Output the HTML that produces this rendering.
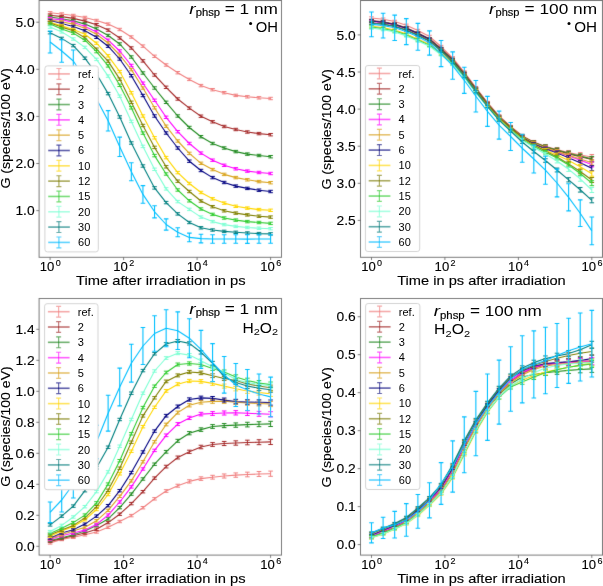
<!DOCTYPE html>
<html><head><meta charset="utf-8"><style>html,body{margin:0;padding:0;background:#fff;}svg{display:block;will-change:transform;}text{font-family:"Liberation Sans", sans-serif;stroke:#000;stroke-width:0.12px;} text.ns{stroke:none;}</style></head><body>
<svg width="603" height="586" viewBox="0 0 603 586" font-family='"Liberation Sans", sans-serif' fill="#000">
<defs><filter id="bl" filterUnits="userSpaceOnUse" x="0" y="0" width="603" height="586"><feConvolveMatrix order="3" kernelMatrix="0.0049 0.0700 0.0049 0.0700 0.7004 0.0700 0.0049 0.0700 0.0049" divisor="1" edgeMode="duplicate" preserveAlpha="false"/></filter></defs>
<rect width="603" height="586" fill="#fff"/>
<g filter="url(#bl)">
<g>
<polyline points="50.10,12.80 61.70,14.00 73.31,15.50 84.91,17.50 96.52,20.50 108.12,24.10 119.73,29.50 131.34,37.00 142.94,46.10 154.55,56.30 166.15,65.00 177.75,72.70 189.36,79.40 200.97,85.60 212.57,89.70 224.18,92.70 235.78,95.40 247.38,96.80 258.99,97.80 270.60,98.50" fill="none" stroke="#F08080" stroke-width="1.1" stroke-linejoin="round"/>
<path d="M50.10,11.60V14.00M47.80,11.60h4.6M47.80,14.00h4.6M61.70,12.80V15.20M59.41,12.80h4.6M59.41,15.20h4.6M73.31,14.30V16.70M71.01,14.30h4.6M71.01,16.70h4.6M84.91,16.30V18.70M82.61,16.30h4.6M82.61,18.70h4.6M96.52,19.30V21.70M94.22,19.30h4.6M94.22,21.70h4.6M108.12,22.90V25.30M105.83,22.90h4.6M105.83,25.30h4.6M119.73,28.30V30.70M117.43,28.30h4.6M117.43,30.70h4.6M131.34,35.80V38.20M129.03,35.80h4.6M129.03,38.20h4.6M142.94,44.90V47.30M140.64,44.90h4.6M140.64,47.30h4.6M154.55,55.10V57.50M152.25,55.10h4.6M152.25,57.50h4.6M166.15,63.80V66.20M163.85,63.80h4.6M163.85,66.20h4.6M177.75,71.50V73.90M175.45,71.50h4.6M175.45,73.90h4.6M189.36,78.20V80.60M187.06,78.20h4.6M187.06,80.60h4.6M200.97,84.40V86.80M198.66,84.40h4.6M198.66,86.80h4.6M212.57,88.50V90.90M210.27,88.50h4.6M210.27,90.90h4.6M224.18,91.50V93.90M221.88,91.50h4.6M221.88,93.90h4.6M235.78,94.20V96.60M233.48,94.20h4.6M233.48,96.60h4.6M247.38,95.60V98.00M245.08,95.60h4.6M245.08,98.00h4.6M258.99,96.60V99.00M256.69,96.60h4.6M256.69,99.00h4.6M270.60,97.30V99.70M268.30,97.30h4.6M268.30,99.70h4.6" fill="none" stroke="#F08080" stroke-width="1.0"/>
<polyline points="50.10,15.20 61.70,16.60 73.31,18.40 84.91,21.10 96.52,24.70 108.12,30.10 119.73,38.00 131.34,48.00 142.94,60.90 154.55,75.00 166.15,87.30 177.75,99.00 189.36,108.10 200.97,116.20 212.57,121.80 224.18,126.50 235.78,129.50 247.38,132.00 258.99,133.60 270.60,134.70" fill="none" stroke="#A52A2A" stroke-width="1.1" stroke-linejoin="round"/>
<path d="M50.10,14.00V16.40M47.80,14.00h4.6M47.80,16.40h4.6M61.70,15.40V17.80M59.41,15.40h4.6M59.41,17.80h4.6M73.31,17.20V19.60M71.01,17.20h4.6M71.01,19.60h4.6M84.91,19.90V22.30M82.61,19.90h4.6M82.61,22.30h4.6M96.52,23.50V25.90M94.22,23.50h4.6M94.22,25.90h4.6M108.12,28.90V31.30M105.83,28.90h4.6M105.83,31.30h4.6M119.73,36.80V39.20M117.43,36.80h4.6M117.43,39.20h4.6M131.34,46.80V49.20M129.03,46.80h4.6M129.03,49.20h4.6M142.94,59.70V62.10M140.64,59.70h4.6M140.64,62.10h4.6M154.55,73.80V76.20M152.25,73.80h4.6M152.25,76.20h4.6M166.15,86.10V88.50M163.85,86.10h4.6M163.85,88.50h4.6M177.75,97.80V100.20M175.45,97.80h4.6M175.45,100.20h4.6M189.36,106.90V109.30M187.06,106.90h4.6M187.06,109.30h4.6M200.97,115.00V117.40M198.66,115.00h4.6M198.66,117.40h4.6M212.57,120.60V123.00M210.27,120.60h4.6M210.27,123.00h4.6M224.18,125.30V127.70M221.88,125.30h4.6M221.88,127.70h4.6M235.78,128.30V130.70M233.48,128.30h4.6M233.48,130.70h4.6M247.38,130.80V133.20M245.08,130.80h4.6M245.08,133.20h4.6M258.99,132.40V134.80M256.69,132.40h4.6M256.69,134.80h4.6M270.60,133.50V135.90M268.30,133.50h4.6M268.30,135.90h4.6" fill="none" stroke="#A52A2A" stroke-width="1.0"/>
<polyline points="50.10,17.00 61.70,18.70 73.31,20.90 84.91,24.10 96.52,28.90 108.12,35.50 119.73,44.00 131.34,57.00 142.94,73.00 154.55,88.00 166.15,102.30 177.75,116.00 189.36,127.50 200.97,136.70 212.57,143.50 224.18,148.00 235.78,151.60 247.38,154.10 258.99,155.50 270.60,156.70" fill="none" stroke="#228B22" stroke-width="1.1" stroke-linejoin="round"/>
<path d="M50.10,15.80V18.20M47.80,15.80h4.6M47.80,18.20h4.6M61.70,17.50V19.90M59.41,17.50h4.6M59.41,19.90h4.6M73.31,19.70V22.10M71.01,19.70h4.6M71.01,22.10h4.6M84.91,22.90V25.30M82.61,22.90h4.6M82.61,25.30h4.6M96.52,27.70V30.10M94.22,27.70h4.6M94.22,30.10h4.6M108.12,34.30V36.70M105.83,34.30h4.6M105.83,36.70h4.6M119.73,42.80V45.20M117.43,42.80h4.6M117.43,45.20h4.6M131.34,55.80V58.20M129.03,55.80h4.6M129.03,58.20h4.6M142.94,71.80V74.20M140.64,71.80h4.6M140.64,74.20h4.6M154.55,86.80V89.20M152.25,86.80h4.6M152.25,89.20h4.6M166.15,101.10V103.50M163.85,101.10h4.6M163.85,103.50h4.6M177.75,114.80V117.20M175.45,114.80h4.6M175.45,117.20h4.6M189.36,126.30V128.70M187.06,126.30h4.6M187.06,128.70h4.6M200.97,135.50V137.90M198.66,135.50h4.6M198.66,137.90h4.6M212.57,142.30V144.70M210.27,142.30h4.6M210.27,144.70h4.6M224.18,146.80V149.20M221.88,146.80h4.6M221.88,149.20h4.6M235.78,150.40V152.80M233.48,150.40h4.6M233.48,152.80h4.6M247.38,152.90V155.30M245.08,152.90h4.6M245.08,155.30h4.6M258.99,154.30V156.70M256.69,154.30h4.6M256.69,156.70h4.6M270.60,155.50V157.90M268.30,155.50h4.6M268.30,157.90h4.6" fill="none" stroke="#228B22" stroke-width="1.0"/>
<polyline points="50.10,18.70 61.70,19.90 73.31,22.30 84.91,26.50 96.52,31.90 108.12,40.20 119.73,51.00 131.34,65.50 142.94,83.20 154.55,100.30 166.15,117.30 177.75,131.70 189.36,143.50 200.97,153.10 212.57,160.20 224.18,165.30 235.78,168.80 247.38,171.10 258.99,172.50 270.60,173.50" fill="none" stroke="#FF00FF" stroke-width="1.1" stroke-linejoin="round"/>
<path d="M50.10,17.50V19.90M47.80,17.50h4.6M47.80,19.90h4.6M61.70,18.70V21.10M59.41,18.70h4.6M59.41,21.10h4.6M73.31,21.10V23.50M71.01,21.10h4.6M71.01,23.50h4.6M84.91,25.30V27.70M82.61,25.30h4.6M82.61,27.70h4.6M96.52,30.70V33.10M94.22,30.70h4.6M94.22,33.10h4.6M108.12,39.00V41.40M105.83,39.00h4.6M105.83,41.40h4.6M119.73,49.80V52.20M117.43,49.80h4.6M117.43,52.20h4.6M131.34,64.30V66.70M129.03,64.30h4.6M129.03,66.70h4.6M142.94,82.00V84.40M140.64,82.00h4.6M140.64,84.40h4.6M154.55,99.10V101.50M152.25,99.10h4.6M152.25,101.50h4.6M166.15,116.10V118.50M163.85,116.10h4.6M163.85,118.50h4.6M177.75,130.50V132.90M175.45,130.50h4.6M175.45,132.90h4.6M189.36,142.30V144.70M187.06,142.30h4.6M187.06,144.70h4.6M200.97,151.90V154.30M198.66,151.90h4.6M198.66,154.30h4.6M212.57,159.00V161.40M210.27,159.00h4.6M210.27,161.40h4.6M224.18,164.10V166.50M221.88,164.10h4.6M221.88,166.50h4.6M235.78,167.60V170.00M233.48,167.60h4.6M233.48,170.00h4.6M247.38,169.90V172.30M245.08,169.90h4.6M245.08,172.30h4.6M258.99,171.30V173.70M256.69,171.30h4.6M256.69,173.70h4.6M270.60,172.30V174.70M268.30,172.30h4.6M268.30,174.70h4.6" fill="none" stroke="#FF00FF" stroke-width="1.0"/>
<polyline points="50.10,19.90 61.70,21.70 73.31,24.10 84.91,28.30 96.52,34.30 108.12,43.00 119.73,55.00 131.34,69.60 142.94,88.00 154.55,107.80 166.15,126.20 177.75,141.00 189.36,153.40 200.97,163.30 212.57,169.60 224.18,174.40 235.78,177.60 247.38,179.80 258.99,181.60 270.60,182.70" fill="none" stroke="#DAA520" stroke-width="1.1" stroke-linejoin="round"/>
<path d="M50.10,18.70V21.10M47.80,18.70h4.6M47.80,21.10h4.6M61.70,20.50V22.90M59.41,20.50h4.6M59.41,22.90h4.6M73.31,22.90V25.30M71.01,22.90h4.6M71.01,25.30h4.6M84.91,27.10V29.50M82.61,27.10h4.6M82.61,29.50h4.6M96.52,33.10V35.50M94.22,33.10h4.6M94.22,35.50h4.6M108.12,41.80V44.20M105.83,41.80h4.6M105.83,44.20h4.6M119.73,53.80V56.20M117.43,53.80h4.6M117.43,56.20h4.6M131.34,68.40V70.80M129.03,68.40h4.6M129.03,70.80h4.6M142.94,86.80V89.20M140.64,86.80h4.6M140.64,89.20h4.6M154.55,106.60V109.00M152.25,106.60h4.6M152.25,109.00h4.6M166.15,125.00V127.40M163.85,125.00h4.6M163.85,127.40h4.6M177.75,139.80V142.20M175.45,139.80h4.6M175.45,142.20h4.6M189.36,152.20V154.60M187.06,152.20h4.6M187.06,154.60h4.6M200.97,162.10V164.50M198.66,162.10h4.6M198.66,164.50h4.6M212.57,168.40V170.80M210.27,168.40h4.6M210.27,170.80h4.6M224.18,173.20V175.60M221.88,173.20h4.6M221.88,175.60h4.6M235.78,176.40V178.80M233.48,176.40h4.6M233.48,178.80h4.6M247.38,178.60V181.00M245.08,178.60h4.6M245.08,181.00h4.6M258.99,180.40V182.80M256.69,180.40h4.6M256.69,182.80h4.6M270.60,181.50V183.90M268.30,181.50h4.6M268.30,183.90h4.6" fill="none" stroke="#DAA520" stroke-width="1.0"/>
<polyline points="50.10,20.50 61.70,23.50 73.31,26.50 84.91,30.70 96.52,37.30 108.12,46.20 119.73,59.00 131.34,75.70 142.94,95.50 154.55,116.00 166.15,133.00 177.75,148.00 189.36,161.20 200.97,170.50 212.57,177.60 224.18,182.50 235.78,186.10 247.38,188.40 258.99,190.20 270.60,191.50" fill="none" stroke="#000080" stroke-width="1.1" stroke-linejoin="round"/>
<path d="M50.10,19.30V21.70M47.80,19.30h4.6M47.80,21.70h4.6M61.70,22.30V24.70M59.41,22.30h4.6M59.41,24.70h4.6M73.31,25.30V27.70M71.01,25.30h4.6M71.01,27.70h4.6M84.91,29.50V31.90M82.61,29.50h4.6M82.61,31.90h4.6M96.52,36.10V38.50M94.22,36.10h4.6M94.22,38.50h4.6M108.12,45.00V47.40M105.83,45.00h4.6M105.83,47.40h4.6M119.73,57.80V60.20M117.43,57.80h4.6M117.43,60.20h4.6M131.34,74.50V76.90M129.03,74.50h4.6M129.03,76.90h4.6M142.94,94.30V96.70M140.64,94.30h4.6M140.64,96.70h4.6M154.55,114.80V117.20M152.25,114.80h4.6M152.25,117.20h4.6M166.15,131.80V134.20M163.85,131.80h4.6M163.85,134.20h4.6M177.75,146.80V149.20M175.45,146.80h4.6M175.45,149.20h4.6M189.36,160.00V162.40M187.06,160.00h4.6M187.06,162.40h4.6M200.97,169.30V171.70M198.66,169.30h4.6M198.66,171.70h4.6M212.57,176.40V178.80M210.27,176.40h4.6M210.27,178.80h4.6M224.18,181.30V183.70M221.88,181.30h4.6M221.88,183.70h4.6M235.78,184.90V187.30M233.48,184.90h4.6M233.48,187.30h4.6M247.38,187.20V189.60M245.08,187.20h4.6M245.08,189.60h4.6M258.99,189.00V191.40M256.69,189.00h4.6M256.69,191.40h4.6M270.60,190.30V192.70M268.30,190.30h4.6M268.30,192.70h4.6" fill="none" stroke="#000080" stroke-width="1.0"/>
<polyline points="50.10,22.30 61.70,25.90 73.31,29.50 84.91,34.30 96.52,43.20 108.12,55.80 119.73,71.60 131.34,92.80 142.94,116.00 154.55,137.80 166.15,157.60 177.75,172.60 189.36,183.50 200.97,192.50 212.57,198.80 224.18,203.10 235.78,206.30 247.38,208.10 258.99,209.60 270.60,210.30" fill="none" stroke="#FFD700" stroke-width="1.1" stroke-linejoin="round"/>
<path d="M50.10,21.10V23.50M47.80,21.10h4.6M47.80,23.50h4.6M61.70,24.70V27.10M59.41,24.70h4.6M59.41,27.10h4.6M73.31,28.30V30.70M71.01,28.30h4.6M71.01,30.70h4.6M84.91,33.10V35.50M82.61,33.10h4.6M82.61,35.50h4.6M96.52,42.00V44.40M94.22,42.00h4.6M94.22,44.40h4.6M108.12,54.60V57.00M105.83,54.60h4.6M105.83,57.00h4.6M119.73,70.40V72.80M117.43,70.40h4.6M117.43,72.80h4.6M131.34,91.60V94.00M129.03,91.60h4.6M129.03,94.00h4.6M142.94,114.80V117.20M140.64,114.80h4.6M140.64,117.20h4.6M154.55,136.60V139.00M152.25,136.60h4.6M152.25,139.00h4.6M166.15,156.40V158.80M163.85,156.40h4.6M163.85,158.80h4.6M177.75,171.40V173.80M175.45,171.40h4.6M175.45,173.80h4.6M189.36,182.30V184.70M187.06,182.30h4.6M187.06,184.70h4.6M200.97,191.30V193.70M198.66,191.30h4.6M198.66,193.70h4.6M212.57,197.60V200.00M210.27,197.60h4.6M210.27,200.00h4.6M224.18,201.90V204.30M221.88,201.90h4.6M221.88,204.30h4.6M235.78,205.10V207.50M233.48,205.10h4.6M233.48,207.50h4.6M247.38,206.90V209.30M245.08,206.90h4.6M245.08,209.30h4.6M258.99,208.40V210.80M256.69,208.40h4.6M256.69,210.80h4.6M270.60,209.10V211.50M268.30,209.10h4.6M268.30,211.50h4.6" fill="none" stroke="#FFD700" stroke-width="1.0"/>
<polyline points="50.10,22.90 61.70,27.10 73.31,30.70 84.91,37.90 96.52,49.20 108.12,61.10 119.73,79.10 131.34,102.30 142.94,125.50 154.55,147.40 166.15,166.80 177.75,181.20 189.36,191.50 200.97,201.00 212.57,206.70 224.18,210.80 235.78,213.10 247.38,214.90 258.99,216.20 270.60,217.10" fill="none" stroke="#808000" stroke-width="1.1" stroke-linejoin="round"/>
<path d="M50.10,21.70V24.10M47.80,21.70h4.6M47.80,24.10h4.6M61.70,25.90V28.30M59.41,25.90h4.6M59.41,28.30h4.6M73.31,29.50V31.90M71.01,29.50h4.6M71.01,31.90h4.6M84.91,36.70V39.10M82.61,36.70h4.6M82.61,39.10h4.6M96.52,48.00V50.40M94.22,48.00h4.6M94.22,50.40h4.6M108.12,59.90V62.30M105.83,59.90h4.6M105.83,62.30h4.6M119.73,77.90V80.30M117.43,77.90h4.6M117.43,80.30h4.6M131.34,101.10V103.50M129.03,101.10h4.6M129.03,103.50h4.6M142.94,124.30V126.70M140.64,124.30h4.6M140.64,126.70h4.6M154.55,146.20V148.60M152.25,146.20h4.6M152.25,148.60h4.6M166.15,165.60V168.00M163.85,165.60h4.6M163.85,168.00h4.6M177.75,180.00V182.40M175.45,180.00h4.6M175.45,182.40h4.6M189.36,190.30V192.70M187.06,190.30h4.6M187.06,192.70h4.6M200.97,199.80V202.20M198.66,199.80h4.6M198.66,202.20h4.6M212.57,205.50V207.90M210.27,205.50h4.6M210.27,207.90h4.6M224.18,209.60V212.00M221.88,209.60h4.6M221.88,212.00h4.6M235.78,211.90V214.30M233.48,211.90h4.6M233.48,214.30h4.6M247.38,213.70V216.10M245.08,213.70h4.6M245.08,216.10h4.6M258.99,215.00V217.40M256.69,215.00h4.6M256.69,217.40h4.6M270.60,215.90V218.30M268.30,215.90h4.6M268.30,218.30h4.6" fill="none" stroke="#808000" stroke-width="1.0"/>
<polyline points="50.10,24.10 61.70,28.90 73.31,33.10 84.91,40.20 96.52,51.60 108.12,65.90 119.73,85.30 131.34,107.80 142.94,133.10 154.55,155.60 166.15,174.00 177.75,190.00 189.36,200.80 200.97,209.00 212.57,214.40 224.18,218.00 235.78,220.10 247.38,221.60 258.99,222.50 270.60,223.40" fill="none" stroke="#32CD32" stroke-width="1.1" stroke-linejoin="round"/>
<path d="M50.10,22.90V25.30M47.80,22.90h4.6M47.80,25.30h4.6M61.70,27.70V30.10M59.41,27.70h4.6M59.41,30.10h4.6M73.31,31.90V34.30M71.01,31.90h4.6M71.01,34.30h4.6M84.91,39.00V41.40M82.61,39.00h4.6M82.61,41.40h4.6M96.52,50.40V52.80M94.22,50.40h4.6M94.22,52.80h4.6M108.12,64.70V67.10M105.83,64.70h4.6M105.83,67.10h4.6M119.73,84.10V86.50M117.43,84.10h4.6M117.43,86.50h4.6M131.34,106.60V109.00M129.03,106.60h4.6M129.03,109.00h4.6M142.94,131.90V134.30M140.64,131.90h4.6M140.64,134.30h4.6M154.55,154.40V156.80M152.25,154.40h4.6M152.25,156.80h4.6M166.15,172.80V175.20M163.85,172.80h4.6M163.85,175.20h4.6M177.75,188.80V191.20M175.45,188.80h4.6M175.45,191.20h4.6M189.36,199.60V202.00M187.06,199.60h4.6M187.06,202.00h4.6M200.97,207.80V210.20M198.66,207.80h4.6M198.66,210.20h4.6M212.57,213.20V215.60M210.27,213.20h4.6M210.27,215.60h4.6M224.18,216.80V219.20M221.88,216.80h4.6M221.88,219.20h4.6M235.78,218.90V221.30M233.48,218.90h4.6M233.48,221.30h4.6M247.38,220.40V222.80M245.08,220.40h4.6M245.08,222.80h4.6M258.99,221.30V223.70M256.69,221.30h4.6M256.69,223.70h4.6M270.60,222.20V224.60M268.30,222.20h4.6M268.30,224.60h4.6" fill="none" stroke="#32CD32" stroke-width="1.0"/>
<polyline points="50.10,27.10 61.70,31.90 73.31,39.00 84.91,47.40 96.52,59.40 108.12,76.10 119.73,96.20 131.34,121.40 142.94,146.40 154.55,169.30 166.15,188.90 177.75,201.60 189.36,209.40 200.97,217.10 212.57,221.60 224.18,224.60 235.78,226.40 247.38,227.50 258.99,228.20 270.60,228.70" fill="none" stroke="#7FFFD4" stroke-width="1.1" stroke-linejoin="round"/>
<path d="M50.10,25.90V28.30M47.80,25.90h4.6M47.80,28.30h4.6M61.70,30.70V33.10M59.41,30.70h4.6M59.41,33.10h4.6M73.31,37.80V40.20M71.01,37.80h4.6M71.01,40.20h4.6M84.91,46.20V48.60M82.61,46.20h4.6M82.61,48.60h4.6M96.52,58.20V60.60M94.22,58.20h4.6M94.22,60.60h4.6M108.12,74.90V77.30M105.83,74.90h4.6M105.83,77.30h4.6M119.73,95.00V97.40M117.43,95.00h4.6M117.43,97.40h4.6M131.34,120.20V122.60M129.03,120.20h4.6M129.03,122.60h4.6M142.94,145.20V147.60M140.64,145.20h4.6M140.64,147.60h4.6M154.55,168.10V170.50M152.25,168.10h4.6M152.25,170.50h4.6M166.15,187.70V190.10M163.85,187.70h4.6M163.85,190.10h4.6M177.75,200.40V202.80M175.45,200.40h4.6M175.45,202.80h4.6M189.36,208.20V210.60M187.06,208.20h4.6M187.06,210.60h4.6M200.97,215.90V218.30M198.66,215.90h4.6M198.66,218.30h4.6M212.57,220.40V222.80M210.27,220.40h4.6M210.27,222.80h4.6M224.18,223.40V225.80M221.88,223.40h4.6M221.88,225.80h4.6M235.78,225.20V227.60M233.48,225.20h4.6M233.48,227.60h4.6M247.38,226.30V228.70M245.08,226.30h4.6M245.08,228.70h4.6M258.99,227.00V229.40M256.69,227.00h4.6M256.69,229.40h4.6M270.60,227.50V229.90M268.30,227.50h4.6M268.30,229.90h4.6" fill="none" stroke="#7FFFD4" stroke-width="1.0"/>
<polyline points="50.10,32.70 61.70,38.40 73.31,45.60 84.91,58.20 96.52,74.00 108.12,93.60 119.73,117.00 131.34,143.00 142.94,166.00 154.55,187.90 166.15,202.60 177.75,213.90 189.36,222.50 200.97,227.80 212.57,230.00 224.18,231.40 235.78,232.30 247.38,233.00 258.99,233.60 270.60,233.90" fill="none" stroke="#008080" stroke-width="1.1" stroke-linejoin="round"/>
<path d="M50.10,31.50V33.90M47.80,31.50h4.6M47.80,33.90h4.6M61.70,37.20V39.60M59.41,37.20h4.6M59.41,39.60h4.6M73.31,44.40V46.80M71.01,44.40h4.6M71.01,46.80h4.6M84.91,57.00V59.40M82.61,57.00h4.6M82.61,59.40h4.6M96.52,72.80V75.20M94.22,72.80h4.6M94.22,75.20h4.6M108.12,92.40V94.80M105.83,92.40h4.6M105.83,94.80h4.6M119.73,115.80V118.20M117.43,115.80h4.6M117.43,118.20h4.6M131.34,141.80V144.20M129.03,141.80h4.6M129.03,144.20h4.6M142.94,164.80V167.20M140.64,164.80h4.6M140.64,167.20h4.6M154.55,186.70V189.10M152.25,186.70h4.6M152.25,189.10h4.6M166.15,201.40V203.80M163.85,201.40h4.6M163.85,203.80h4.6M177.75,212.70V215.10M175.45,212.70h4.6M175.45,215.10h4.6M189.36,221.30V223.70M187.06,221.30h4.6M187.06,223.70h4.6M200.97,226.60V229.00M198.66,226.60h4.6M198.66,229.00h4.6M212.57,228.80V231.20M210.27,228.80h4.6M210.27,231.20h4.6M224.18,230.20V232.60M221.88,230.20h4.6M221.88,232.60h4.6M235.78,231.10V233.50M233.48,231.10h4.6M233.48,233.50h4.6M247.38,231.80V234.20M245.08,231.80h4.6M245.08,234.20h4.6M258.99,232.40V234.80M256.69,232.40h4.6M256.69,234.80h4.6M270.60,232.70V235.10M268.30,232.70h4.6M268.30,235.10h4.6" fill="none" stroke="#008080" stroke-width="1.0"/>
<polyline points="50.10,42.00 61.70,51.00 73.31,61.00 84.91,78.50 96.52,99.00 108.12,120.80 119.73,146.80 131.34,171.70 142.94,194.40 154.55,211.80 166.15,224.50 177.75,232.30 189.36,237.40 200.97,238.60 212.57,239.00 224.18,239.00 235.78,239.00 247.38,239.10 258.99,239.00 270.60,239.00" fill="none" stroke="#00BFFF" stroke-width="1.1" stroke-linejoin="round"/>
<path d="M50.10,31.00V53.00M47.80,31.00h4.6M47.80,53.00h4.6M61.70,39.70V62.30M59.41,39.70h4.6M59.41,62.30h4.6M73.31,50.00V72.00M71.01,50.00h4.6M71.01,72.00h4.6M84.91,67.80V89.20M82.61,67.80h4.6M82.61,89.20h4.6M96.52,88.50V109.50M94.22,88.50h4.6M94.22,109.50h4.6M108.12,110.60V131.00M105.83,110.60h4.6M105.83,131.00h4.6M119.73,137.10V156.50M117.43,137.10h4.6M117.43,156.50h4.6M131.34,162.70V180.70M129.03,162.70h4.6M129.03,180.70h4.6M142.94,185.60V203.20M140.64,185.60h4.6M140.64,203.20h4.6M154.55,205.70V217.90M152.25,205.70h4.6M152.25,217.90h4.6M166.15,218.90V230.10M163.85,218.90h4.6M163.85,230.10h4.6M177.75,227.80V236.80M175.45,227.80h4.6M175.45,236.80h4.6M189.36,233.10V241.70M187.06,233.10h4.6M187.06,241.70h4.6M200.97,234.30V242.90M198.66,234.30h4.6M198.66,242.90h4.6M212.57,234.70V243.30M210.27,234.70h4.6M210.27,243.30h4.6M224.18,234.70V243.30M221.88,234.70h4.6M221.88,243.30h4.6M235.78,234.70V243.30M233.48,234.70h4.6M233.48,243.30h4.6M247.38,234.80V243.40M245.08,234.80h4.6M245.08,243.40h4.6M258.99,234.70V243.30M256.69,234.70h4.6M256.69,243.30h4.6M270.60,234.70V243.30M268.30,234.70h4.6M268.30,243.30h4.6" fill="none" stroke="#00BFFF" stroke-width="1.1"/>
<rect x="44.90" y="65.90" width="53.40" height="186.00" rx="2.5" fill="#ffffff" fill-opacity="1" stroke="#d3d3d3" stroke-width="1"/>
<g stroke="#F08080" stroke-opacity="0.7" fill="none"><line x1="48.20" y1="73.90" x2="69.90" y2="73.90" stroke-width="1.6"/><path d="M58.90,68.50V79.30M56.40,68.50h5M56.40,79.30h5" stroke-width="1.2"/></g>
<g stroke="#A52A2A" stroke-opacity="0.7" fill="none"><line x1="48.20" y1="89.22" x2="69.90" y2="89.22" stroke-width="1.6"/><path d="M58.90,83.82V94.62M56.40,83.82h5M56.40,94.62h5" stroke-width="1.2"/></g>
<g stroke="#228B22" stroke-opacity="0.7" fill="none"><line x1="48.20" y1="104.54" x2="69.90" y2="104.54" stroke-width="1.6"/><path d="M58.90,99.14V109.94M56.40,99.14h5M56.40,109.94h5" stroke-width="1.2"/></g>
<g stroke="#FF00FF" stroke-opacity="0.7" fill="none"><line x1="48.20" y1="119.86" x2="69.90" y2="119.86" stroke-width="1.6"/><path d="M58.90,114.46V125.26M56.40,114.46h5M56.40,125.26h5" stroke-width="1.2"/></g>
<g stroke="#DAA520" stroke-opacity="0.7" fill="none"><line x1="48.20" y1="135.18" x2="69.90" y2="135.18" stroke-width="1.6"/><path d="M58.90,129.78V140.58M56.40,129.78h5M56.40,140.58h5" stroke-width="1.2"/></g>
<g stroke="#000080" stroke-opacity="0.7" fill="none"><line x1="48.20" y1="150.50" x2="69.90" y2="150.50" stroke-width="1.6"/><path d="M58.90,145.10V155.90M56.40,145.10h5M56.40,155.90h5" stroke-width="1.2"/></g>
<g stroke="#FFD700" stroke-opacity="0.7" fill="none"><line x1="48.20" y1="165.82" x2="69.90" y2="165.82" stroke-width="1.6"/><path d="M58.90,160.42V171.22M56.40,160.42h5M56.40,171.22h5" stroke-width="1.2"/></g>
<g stroke="#808000" stroke-opacity="0.7" fill="none"><line x1="48.20" y1="181.14" x2="69.90" y2="181.14" stroke-width="1.6"/><path d="M58.90,175.74V186.54M56.40,175.74h5M56.40,186.54h5" stroke-width="1.2"/></g>
<g stroke="#32CD32" stroke-opacity="0.7" fill="none"><line x1="48.20" y1="196.46" x2="69.90" y2="196.46" stroke-width="1.6"/><path d="M58.90,191.06V201.86M56.40,191.06h5M56.40,201.86h5" stroke-width="1.2"/></g>
<g stroke="#7FFFD4" stroke-opacity="0.7" fill="none"><line x1="48.20" y1="211.78" x2="69.90" y2="211.78" stroke-width="1.6"/><path d="M58.90,206.38V217.18M56.40,206.38h5M56.40,217.18h5" stroke-width="1.2"/></g>
<g stroke="#008080" stroke-opacity="0.7" fill="none"><line x1="48.20" y1="227.10" x2="69.90" y2="227.10" stroke-width="1.6"/><path d="M58.90,221.70V232.50M56.40,221.70h5M56.40,232.50h5" stroke-width="1.2"/></g>
<g stroke="#00BFFF" stroke-opacity="0.7" fill="none"><line x1="48.20" y1="242.42" x2="69.90" y2="242.42" stroke-width="1.6"/><path d="M58.90,237.02V247.82M56.40,237.02h5M56.40,247.82h5" stroke-width="1.2"/></g>
<rect x="39.1" y="0.5" width="242.40" height="256.80" fill="none" stroke="#7a7a7a" stroke-width="1"/>
<line x1="39.1" y1="0.5" x2="281.5" y2="0.5" stroke="#747474" stroke-width="1"/>
<line x1="36.30" y1="22.20" x2="39.10" y2="22.20" stroke="#606060" stroke-width="0.8"/>
<line x1="36.30" y1="69.31" x2="39.10" y2="69.31" stroke="#606060" stroke-width="0.8"/>
<line x1="36.30" y1="116.42" x2="39.10" y2="116.42" stroke="#606060" stroke-width="0.8"/>
<line x1="36.30" y1="163.53" x2="39.10" y2="163.53" stroke="#606060" stroke-width="0.8"/>
<line x1="36.30" y1="210.64" x2="39.10" y2="210.64" stroke="#606060" stroke-width="0.8"/>
<line x1="50.10" y1="257.30" x2="50.10" y2="260.10" stroke="#606060" stroke-width="0.8"/>
<line x1="123.60" y1="257.30" x2="123.60" y2="260.10" stroke="#606060" stroke-width="0.8"/>
<line x1="197.10" y1="257.30" x2="197.10" y2="260.10" stroke="#606060" stroke-width="0.8"/>
<line x1="270.60" y1="257.30" x2="270.60" y2="260.10" stroke="#606060" stroke-width="0.8"/>
</g>
<polyline points="371.50,18.00 383.10,19.21 394.69,21.45 406.29,25.32 417.88,30.50 429.48,36.49 441.07,46.53 452.67,57.91 464.26,72.00 475.86,87.62 487.45,102.51 499.05,115.95 510.64,126.50 522.24,135.70 533.83,142.00 545.42,146.25 557.02,149.50 568.62,152.61 580.21,154.94 591.81,157.00" fill="none" stroke="#F08080" stroke-width="1.1" stroke-linejoin="round"/>
<path d="M371.50,16.80V19.20M369.20,16.80h4.6M369.20,19.20h4.6M383.10,18.01V20.41M380.80,18.01h4.6M380.80,20.41h4.6M394.69,20.25V22.65M392.39,20.25h4.6M392.39,22.65h4.6M406.29,24.12V26.52M403.99,24.12h4.6M403.99,26.52h4.6M417.88,29.30V31.70M415.58,29.30h4.6M415.58,31.70h4.6M429.48,35.29V37.69M427.18,35.29h4.6M427.18,37.69h4.6M441.07,45.33V47.73M438.77,45.33h4.6M438.77,47.73h4.6M452.67,56.71V59.11M450.37,56.71h4.6M450.37,59.11h4.6M464.26,70.80V73.20M461.96,70.80h4.6M461.96,73.20h4.6M475.86,86.42V88.82M473.56,86.42h4.6M473.56,88.82h4.6M487.45,101.31V103.71M485.15,101.31h4.6M485.15,103.71h4.6M499.05,114.75V117.15M496.75,114.75h4.6M496.75,117.15h4.6M510.64,125.30V127.70M508.34,125.30h4.6M508.34,127.70h4.6M522.24,134.31V137.09M519.94,134.31h4.6M519.94,137.09h4.6M533.83,140.43V143.57M531.53,140.43h4.6M531.53,143.57h4.6M545.42,144.49V148.01M543.12,144.49h4.6M543.12,148.01h4.6M557.02,147.56V151.44M554.72,147.56h4.6M554.72,151.44h4.6M568.62,150.48V154.74M566.32,150.48h4.6M566.32,154.74h4.6M580.21,152.62V157.25M577.91,152.62h4.6M577.91,157.25h4.6M591.81,154.50V159.50M589.51,154.50h4.6M589.51,159.50h4.6" fill="none" stroke="#F08080" stroke-width="1.0"/>
<polyline points="371.50,20.50 383.10,21.74 394.69,23.99 406.29,27.84 417.88,33.00 429.48,38.77 441.07,48.36 452.67,59.24 464.26,73.00 475.86,88.44 487.45,103.17 499.05,116.49 510.64,127.00 522.24,136.20 533.83,142.50 545.42,147.00 557.02,150.50 568.62,153.85 580.21,156.76 591.81,159.50" fill="none" stroke="#A52A2A" stroke-width="1.1" stroke-linejoin="round"/>
<path d="M371.50,19.30V21.70M369.20,19.30h4.6M369.20,21.70h4.6M383.10,20.54V22.94M380.80,20.54h4.6M380.80,22.94h4.6M394.69,22.79V25.19M392.39,22.79h4.6M392.39,25.19h4.6M406.29,26.64V29.04M403.99,26.64h4.6M403.99,29.04h4.6M417.88,31.80V34.20M415.58,31.80h4.6M415.58,34.20h4.6M429.48,37.57V39.97M427.18,37.57h4.6M427.18,39.97h4.6M441.07,47.16V49.56M438.77,47.16h4.6M438.77,49.56h4.6M452.67,58.04V60.44M450.37,58.04h4.6M450.37,60.44h4.6M464.26,71.80V74.20M461.96,71.80h4.6M461.96,74.20h4.6M475.86,87.24V89.64M473.56,87.24h4.6M473.56,89.64h4.6M487.45,101.97V104.37M485.15,101.97h4.6M485.15,104.37h4.6M499.05,115.29V117.69M496.75,115.29h4.6M496.75,117.69h4.6M510.64,125.80V128.20M508.34,125.80h4.6M508.34,128.20h4.6M522.24,134.81V137.59M519.94,134.81h4.6M519.94,137.59h4.6M533.83,140.93V144.07M531.53,140.93h4.6M531.53,144.07h4.6M545.42,145.24V148.76M543.12,145.24h4.6M543.12,148.76h4.6M557.02,148.56V152.44M554.72,148.56h4.6M554.72,152.44h4.6M568.62,151.72V155.98M566.32,151.72h4.6M566.32,155.98h4.6M580.21,154.44V159.07M577.91,154.44h4.6M577.91,159.07h4.6M591.81,157.00V162.00M589.51,157.00h4.6M589.51,162.00h4.6" fill="none" stroke="#A52A2A" stroke-width="1.0"/>
<polyline points="371.50,21.00 383.10,22.24 394.69,24.49 406.29,28.34 417.88,33.50 429.48,39.27 441.07,48.86 452.67,59.74 464.26,73.50 475.86,88.94 487.45,103.67 499.05,116.99 510.64,127.50 522.24,136.51 533.83,142.50 545.42,146.69 557.02,150.00 568.62,153.30 580.21,156.14 591.81,158.90" fill="none" stroke="#228B22" stroke-width="1.1" stroke-linejoin="round"/>
<path d="M371.50,19.80V22.20M369.20,19.80h4.6M369.20,22.20h4.6M383.10,21.04V23.44M380.80,21.04h4.6M380.80,23.44h4.6M394.69,23.29V25.69M392.39,23.29h4.6M392.39,25.69h4.6M406.29,27.14V29.54M403.99,27.14h4.6M403.99,29.54h4.6M417.88,32.30V34.70M415.58,32.30h4.6M415.58,34.70h4.6M429.48,38.07V40.47M427.18,38.07h4.6M427.18,40.47h4.6M441.07,47.66V50.06M438.77,47.66h4.6M438.77,50.06h4.6M452.67,58.54V60.94M450.37,58.54h4.6M450.37,60.94h4.6M464.26,72.30V74.70M461.96,72.30h4.6M461.96,74.70h4.6M475.86,87.74V90.14M473.56,87.74h4.6M473.56,90.14h4.6M487.45,102.47V104.87M485.15,102.47h4.6M485.15,104.87h4.6M499.05,115.79V118.19M496.75,115.79h4.6M496.75,118.19h4.6M510.64,126.30V128.70M508.34,126.30h4.6M508.34,128.70h4.6M522.24,135.13V137.90M519.94,135.13h4.6M519.94,137.90h4.6M533.83,140.93V144.07M531.53,140.93h4.6M531.53,144.07h4.6M545.42,144.93V148.44M543.12,144.93h4.6M543.12,148.44h4.6M557.02,148.06V151.94M554.72,148.06h4.6M554.72,151.94h4.6M568.62,151.18V155.43M566.32,151.18h4.6M566.32,155.43h4.6M580.21,153.83V158.46M577.91,153.83h4.6M577.91,158.46h4.6M591.81,156.40V161.40M589.51,156.40h4.6M589.51,161.40h4.6" fill="none" stroke="#228B22" stroke-width="1.0"/>
<polyline points="371.50,21.50 383.10,22.74 394.69,24.99 406.29,28.84 417.88,34.00 429.48,39.77 441.07,49.36 452.67,60.24 464.26,74.00 475.86,89.44 487.45,104.17 499.05,117.49 510.64,128.00 522.24,137.20 533.83,143.50 545.42,148.14 557.02,152.00 568.62,156.05 580.21,160.13 591.81,164.40" fill="none" stroke="#FF00FF" stroke-width="1.1" stroke-linejoin="round"/>
<path d="M371.50,20.30V22.70M369.20,20.30h4.6M369.20,22.70h4.6M383.10,21.54V23.94M380.80,21.54h4.6M380.80,23.94h4.6M394.69,23.79V26.19M392.39,23.79h4.6M392.39,26.19h4.6M406.29,27.64V30.04M403.99,27.64h4.6M403.99,30.04h4.6M417.88,32.80V35.20M415.58,32.80h4.6M415.58,35.20h4.6M429.48,38.57V40.97M427.18,38.57h4.6M427.18,40.97h4.6M441.07,48.16V50.56M438.77,48.16h4.6M438.77,50.56h4.6M452.67,59.04V61.44M450.37,59.04h4.6M450.37,61.44h4.6M464.26,72.80V75.20M461.96,72.80h4.6M461.96,75.20h4.6M475.86,88.24V90.64M473.56,88.24h4.6M473.56,90.64h4.6M487.45,102.97V105.37M485.15,102.97h4.6M485.15,105.37h4.6M499.05,116.29V118.69M496.75,116.29h4.6M496.75,118.69h4.6M510.64,126.80V129.20M508.34,126.80h4.6M508.34,129.20h4.6M522.24,135.81V138.59M519.94,135.81h4.6M519.94,138.59h4.6M533.83,141.93V145.07M531.53,141.93h4.6M531.53,145.07h4.6M545.42,146.39V149.90M543.12,146.39h4.6M543.12,149.90h4.6M557.02,150.06V153.94M554.72,150.06h4.6M554.72,153.94h4.6M568.62,153.92V158.18M566.32,153.92h4.6M566.32,158.18h4.6M580.21,157.82V162.45M577.91,157.82h4.6M577.91,162.45h4.6M591.81,161.90V166.90M589.51,161.90h4.6M589.51,166.90h4.6" fill="none" stroke="#FF00FF" stroke-width="1.0"/>
<polyline points="371.50,21.00 383.10,22.24 394.69,24.49 406.29,28.34 417.88,33.50 429.48,39.27 441.07,48.86 452.67,59.74 464.26,73.50 475.86,88.94 487.45,103.67 499.05,116.99 510.64,127.50 522.24,136.70 533.83,143.00 545.42,147.65 557.02,151.50 568.62,155.38 580.21,159.03 591.81,162.70" fill="none" stroke="#DAA520" stroke-width="1.1" stroke-linejoin="round"/>
<path d="M371.50,19.80V22.20M369.20,19.80h4.6M369.20,22.20h4.6M383.10,21.04V23.44M380.80,21.04h4.6M380.80,23.44h4.6M394.69,23.29V25.69M392.39,23.29h4.6M392.39,25.69h4.6M406.29,27.14V29.54M403.99,27.14h4.6M403.99,29.54h4.6M417.88,32.30V34.70M415.58,32.30h4.6M415.58,34.70h4.6M429.48,38.07V40.47M427.18,38.07h4.6M427.18,40.47h4.6M441.07,47.66V50.06M438.77,47.66h4.6M438.77,50.06h4.6M452.67,58.54V60.94M450.37,58.54h4.6M450.37,60.94h4.6M464.26,72.30V74.70M461.96,72.30h4.6M461.96,74.70h4.6M475.86,87.74V90.14M473.56,87.74h4.6M473.56,90.14h4.6M487.45,102.47V104.87M485.15,102.47h4.6M485.15,104.87h4.6M499.05,115.79V118.19M496.75,115.79h4.6M496.75,118.19h4.6M510.64,126.30V128.70M508.34,126.30h4.6M508.34,128.70h4.6M522.24,135.31V138.09M519.94,135.31h4.6M519.94,138.09h4.6M533.83,141.43V144.57M531.53,141.43h4.6M531.53,144.57h4.6M545.42,145.89V149.40M543.12,145.89h4.6M543.12,149.40h4.6M557.02,149.56V153.44M554.72,149.56h4.6M554.72,153.44h4.6M568.62,153.25V157.51M566.32,153.25h4.6M566.32,157.51h4.6M580.21,156.71V161.34M577.91,156.71h4.6M577.91,161.34h4.6M591.81,160.20V165.20M589.51,160.20h4.6M589.51,165.20h4.6" fill="none" stroke="#DAA520" stroke-width="1.0"/>
<polyline points="371.50,21.00 383.10,22.22 394.69,24.46 406.29,28.32 417.88,33.50 429.48,39.36 441.07,49.12 452.67,60.17 464.26,74.00 475.86,89.43 487.45,104.15 499.05,117.46 510.64,128.00 522.24,137.38 533.83,144.00 545.42,148.88 557.02,153.00 568.62,157.65 580.21,162.70 591.81,168.20" fill="none" stroke="#000080" stroke-width="1.1" stroke-linejoin="round"/>
<path d="M371.50,19.80V22.20M369.20,19.80h4.6M369.20,22.20h4.6M383.10,21.02V23.42M380.80,21.02h4.6M380.80,23.42h4.6M394.69,23.26V25.66M392.39,23.26h4.6M392.39,25.66h4.6M406.29,27.12V29.52M403.99,27.12h4.6M403.99,29.52h4.6M417.88,32.30V34.70M415.58,32.30h4.6M415.58,34.70h4.6M429.48,38.16V40.56M427.18,38.16h4.6M427.18,40.56h4.6M441.07,47.92V50.32M438.77,47.92h4.6M438.77,50.32h4.6M452.67,58.97V61.37M450.37,58.97h4.6M450.37,61.37h4.6M464.26,72.80V75.20M461.96,72.80h4.6M461.96,75.20h4.6M475.86,88.23V90.63M473.56,88.23h4.6M473.56,90.63h4.6M487.45,102.95V105.35M485.15,102.95h4.6M485.15,105.35h4.6M499.05,116.26V118.66M496.75,116.26h4.6M496.75,118.66h4.6M510.64,126.80V129.20M508.34,126.80h4.6M508.34,129.20h4.6M522.24,135.99V138.76M519.94,135.99h4.6M519.94,138.76h4.6M533.83,142.43V145.57M531.53,142.43h4.6M531.53,145.57h4.6M545.42,147.12V150.64M543.12,147.12h4.6M543.12,150.64h4.6M557.02,151.06V154.94M554.72,151.06h4.6M554.72,154.94h4.6M568.62,155.52V159.78M566.32,155.52h4.6M566.32,159.78h4.6M580.21,160.38V165.01M577.91,160.38h4.6M577.91,165.01h4.6M591.81,165.70V170.70M589.51,165.70h4.6M589.51,170.70h4.6" fill="none" stroke="#000080" stroke-width="1.0"/>
<polyline points="371.50,26.00 383.10,27.60 394.69,30.01 406.29,33.89 417.88,39.00 429.48,44.34 441.07,53.02 452.67,62.91 464.26,76.00 475.86,91.07 487.45,105.48 499.05,118.58 510.64,129.00 522.24,138.35 533.83,145.00 545.42,150.21 557.02,155.00 568.62,160.54 580.21,166.75 591.81,173.70" fill="none" stroke="#FFD700" stroke-width="1.1" stroke-linejoin="round"/>
<path d="M371.50,24.80V27.20M369.20,24.80h4.6M369.20,27.20h4.6M383.10,26.40V28.80M380.80,26.40h4.6M380.80,28.80h4.6M394.69,28.81V31.21M392.39,28.81h4.6M392.39,31.21h4.6M406.29,32.69V35.09M403.99,32.69h4.6M403.99,35.09h4.6M417.88,37.80V40.20M415.58,37.80h4.6M415.58,40.20h4.6M429.48,43.14V45.54M427.18,43.14h4.6M427.18,45.54h4.6M441.07,51.82V54.22M438.77,51.82h4.6M438.77,54.22h4.6M452.67,61.71V64.11M450.37,61.71h4.6M450.37,64.11h4.6M464.26,74.80V77.20M461.96,74.80h4.6M461.96,77.20h4.6M475.86,89.87V92.27M473.56,89.87h4.6M473.56,92.27h4.6M487.45,104.28V106.68M485.15,104.28h4.6M485.15,106.68h4.6M499.05,117.38V119.78M496.75,117.38h4.6M496.75,119.78h4.6M510.64,127.80V130.20M508.34,127.80h4.6M508.34,130.20h4.6M522.24,136.96V139.74M519.94,136.96h4.6M519.94,139.74h4.6M533.83,143.43V146.57M531.53,143.43h4.6M531.53,146.57h4.6M545.42,148.46V151.97M543.12,148.46h4.6M543.12,151.97h4.6M557.02,153.06V156.94M554.72,153.06h4.6M554.72,156.94h4.6M568.62,158.41V162.66M566.32,158.41h4.6M566.32,162.66h4.6M580.21,164.44V169.07M577.91,164.44h4.6M577.91,169.07h4.6M591.81,171.20V176.20M589.51,171.20h4.6M589.51,176.20h4.6" fill="none" stroke="#FFD700" stroke-width="1.0"/>
<polyline points="371.50,23.00 383.10,24.12 394.69,26.24 406.29,29.96 417.88,35.00 429.48,40.65 441.07,50.10 452.67,60.86 464.26,74.50 475.86,89.80 487.45,104.37 499.05,117.55 510.64,128.00 522.24,137.68 533.83,145.00 545.42,151.06 557.02,157.00 568.62,163.85 580.21,171.48 591.81,180.00" fill="none" stroke="#808000" stroke-width="1.1" stroke-linejoin="round"/>
<path d="M371.50,21.80V24.20M369.20,21.80h4.6M369.20,24.20h4.6M383.10,22.92V25.32M380.80,22.92h4.6M380.80,25.32h4.6M394.69,25.04V27.44M392.39,25.04h4.6M392.39,27.44h4.6M406.29,28.76V31.16M403.99,28.76h4.6M403.99,31.16h4.6M417.88,33.80V36.20M415.58,33.80h4.6M415.58,36.20h4.6M429.48,39.45V41.85M427.18,39.45h4.6M427.18,41.85h4.6M441.07,48.90V51.30M438.77,48.90h4.6M438.77,51.30h4.6M452.67,59.66V62.06M450.37,59.66h4.6M450.37,62.06h4.6M464.26,73.30V75.70M461.96,73.30h4.6M461.96,75.70h4.6M475.86,88.60V91.00M473.56,88.60h4.6M473.56,91.00h4.6M487.45,103.17V105.57M485.15,103.17h4.6M485.15,105.57h4.6M499.05,116.35V118.75M496.75,116.35h4.6M496.75,118.75h4.6M510.64,126.80V129.20M508.34,126.80h4.6M508.34,129.20h4.6M522.24,136.29V139.06M519.94,136.29h4.6M519.94,139.06h4.6M533.83,143.43V146.57M531.53,143.43h4.6M531.53,146.57h4.6M545.42,149.30V152.82M543.12,149.30h4.6M543.12,152.82h4.6M557.02,155.06V158.94M554.72,155.06h4.6M554.72,158.94h4.6M568.62,161.72V165.98M566.32,161.72h4.6M566.32,165.98h4.6M580.21,169.16V173.79M577.91,169.16h4.6M577.91,173.79h4.6M591.81,177.50V182.50M589.51,177.50h4.6M589.51,182.50h4.6" fill="none" stroke="#808000" stroke-width="1.0"/>
<polyline points="371.50,27.00 383.10,28.60 394.69,31.01 406.29,34.89 417.88,40.00 429.48,45.34 441.07,54.02 452.67,63.91 464.26,77.00 475.86,92.07 487.45,106.48 499.05,119.58 510.64,130.00 522.24,139.51 533.83,146.50 545.42,152.29 557.02,158.00 568.62,165.04 580.21,173.47 591.81,183.20" fill="none" stroke="#32CD32" stroke-width="1.1" stroke-linejoin="round"/>
<path d="M371.50,25.80V28.20M369.20,25.80h4.6M369.20,28.20h4.6M383.10,27.40V29.80M380.80,27.40h4.6M380.80,29.80h4.6M394.69,29.81V32.21M392.39,29.81h4.6M392.39,32.21h4.6M406.29,33.69V36.09M403.99,33.69h4.6M403.99,36.09h4.6M417.88,38.80V41.20M415.58,38.80h4.6M415.58,41.20h4.6M429.48,44.14V46.54M427.18,44.14h4.6M427.18,46.54h4.6M441.07,52.82V55.22M438.77,52.82h4.6M438.77,55.22h4.6M452.67,62.71V65.11M450.37,62.71h4.6M450.37,65.11h4.6M464.26,75.80V78.20M461.96,75.80h4.6M461.96,78.20h4.6M475.86,90.87V93.27M473.56,90.87h4.6M473.56,93.27h4.6M487.45,105.28V107.68M485.15,105.28h4.6M485.15,107.68h4.6M499.05,118.38V120.78M496.75,118.38h4.6M496.75,120.78h4.6M510.64,128.80V131.20M508.34,128.80h4.6M508.34,131.20h4.6M522.24,138.12V140.89M519.94,138.12h4.6M519.94,140.89h4.6M533.83,144.93V148.07M531.53,144.93h4.6M531.53,148.07h4.6M545.42,150.53V154.04M543.12,150.53h4.6M543.12,154.04h4.6M557.02,156.06V159.94M554.72,156.06h4.6M554.72,159.94h4.6M568.62,162.91V167.16M566.32,162.91h4.6M566.32,167.16h4.6M580.21,171.16V175.79M577.91,171.16h4.6M577.91,175.79h4.6M591.81,180.70V185.70M589.51,180.70h4.6M589.51,185.70h4.6" fill="none" stroke="#32CD32" stroke-width="1.0"/>
<polyline points="371.50,28.00 383.10,29.60 394.69,32.01 406.29,35.89 417.88,41.00 429.48,46.27 441.07,54.78 452.67,64.50 464.26,77.50 475.86,92.56 487.45,106.97 499.05,120.07 510.64,130.50 522.24,140.16 533.83,147.50 545.42,154.07 557.02,161.00 568.62,169.27 580.21,178.93 591.81,190.00" fill="none" stroke="#7FFFD4" stroke-width="1.1" stroke-linejoin="round"/>
<path d="M371.50,26.80V29.20M369.20,26.80h4.6M369.20,29.20h4.6M383.10,28.40V30.80M380.80,28.40h4.6M380.80,30.80h4.6M394.69,30.81V33.21M392.39,30.81h4.6M392.39,33.21h4.6M406.29,34.69V37.09M403.99,34.69h4.6M403.99,37.09h4.6M417.88,39.80V42.20M415.58,39.80h4.6M415.58,42.20h4.6M429.48,45.07V47.47M427.18,45.07h4.6M427.18,47.47h4.6M441.07,53.58V55.98M438.77,53.58h4.6M438.77,55.98h4.6M452.67,63.30V65.70M450.37,63.30h4.6M450.37,65.70h4.6M464.26,76.30V78.70M461.96,76.30h4.6M461.96,78.70h4.6M475.86,91.36V93.76M473.56,91.36h4.6M473.56,93.76h4.6M487.45,105.77V108.17M485.15,105.77h4.6M485.15,108.17h4.6M499.05,118.87V121.27M496.75,118.87h4.6M496.75,121.27h4.6M510.64,129.30V131.70M508.34,129.30h4.6M508.34,131.70h4.6M522.24,138.77V141.54M519.94,138.77h4.6M519.94,141.54h4.6M533.83,145.93V149.07M531.53,145.93h4.6M531.53,149.07h4.6M545.42,152.31V155.83M543.12,152.31h4.6M543.12,155.83h4.6M557.02,159.06V162.94M554.72,159.06h4.6M554.72,162.94h4.6M568.62,167.14V171.40M566.32,167.14h4.6M566.32,171.40h4.6M580.21,176.62V181.25M577.91,176.62h4.6M577.91,181.25h4.6M591.81,187.50V192.50M589.51,187.50h4.6M589.51,192.50h4.6" fill="none" stroke="#7FFFD4" stroke-width="1.0"/>
<polyline points="371.50,23.00 383.10,24.22 394.69,26.46 406.29,30.32 417.88,35.50 429.48,41.33 441.07,51.02 452.67,62.06 464.26,76.00 475.86,91.60 487.45,106.49 499.05,120.07 510.64,131.00 522.24,141.99 533.83,151.50 545.42,160.54 557.02,170.00 568.62,179.82 580.21,189.77 591.81,200.30" fill="none" stroke="#008080" stroke-width="1.1" stroke-linejoin="round"/>
<path d="M371.50,21.80V24.20M369.20,21.80h4.6M369.20,24.20h4.6M383.10,23.02V25.42M380.80,23.02h4.6M380.80,25.42h4.6M394.69,25.26V27.66M392.39,25.26h4.6M392.39,27.66h4.6M406.29,29.12V31.52M403.99,29.12h4.6M403.99,31.52h4.6M417.88,34.30V36.70M415.58,34.30h4.6M415.58,36.70h4.6M429.48,40.13V42.53M427.18,40.13h4.6M427.18,42.53h4.6M441.07,49.82V52.22M438.77,49.82h4.6M438.77,52.22h4.6M452.67,60.86V63.26M450.37,60.86h4.6M450.37,63.26h4.6M464.26,74.80V77.20M461.96,74.80h4.6M461.96,77.20h4.6M475.86,90.40V92.80M473.56,90.40h4.6M473.56,92.80h4.6M487.45,105.29V107.69M485.15,105.29h4.6M485.15,107.69h4.6M499.05,118.87V121.27M496.75,118.87h4.6M496.75,121.27h4.6M510.64,129.80V132.20M508.34,129.80h4.6M508.34,132.20h4.6M522.24,140.60V143.37M519.94,140.60h4.6M519.94,143.37h4.6M533.83,149.93V153.07M531.53,149.93h4.6M531.53,153.07h4.6M545.42,158.78V162.30M543.12,158.78h4.6M543.12,162.30h4.6M557.02,168.06V171.94M554.72,168.06h4.6M554.72,171.94h4.6M568.62,177.69V181.95M566.32,177.69h4.6M566.32,181.95h4.6M580.21,187.46V192.09M577.91,187.46h4.6M577.91,192.09h4.6M591.81,197.80V202.80M589.51,197.80h4.6M589.51,202.80h4.6" fill="none" stroke="#008080" stroke-width="1.0"/>
<polyline points="371.50,24.40 383.10,25.61 394.69,27.83 406.29,31.66 417.88,36.80 429.48,42.99 441.07,53.57 452.67,65.61 464.26,80.30 475.86,96.26 487.45,111.37 499.05,125.17 510.64,136.50 522.24,148.25 533.83,159.00 545.42,170.23 557.02,183.00 568.62,197.32 580.21,213.20 591.81,230.90" fill="none" stroke="#00BFFF" stroke-width="1.1" stroke-linejoin="round"/>
<path d="M371.50,12.00V36.80M369.20,12.00h4.6M369.20,36.80h4.6M383.10,13.21V38.01M380.80,13.21h4.6M380.80,38.01h4.6M394.69,15.13V40.53M392.39,15.13h4.6M392.39,40.53h4.6M406.29,18.66V44.66M403.99,18.66h4.6M403.99,44.66h4.6M417.88,23.40V50.20M415.58,23.40h4.6M415.58,50.20h4.6M429.48,30.89V55.09M427.18,30.89h4.6M427.18,55.09h4.6M441.07,40.47V66.67M438.77,40.47h4.6M438.77,66.67h4.6M452.67,51.91V79.31M450.37,51.91h4.6M450.37,79.31h4.6M464.26,67.20V93.40M461.96,67.20h4.6M461.96,93.40h4.6M475.86,80.56V111.96M473.56,80.56h4.6M473.56,111.96h4.6M487.45,96.37V126.37M485.15,96.37h4.6M485.15,126.37h4.6M499.05,111.17V139.17M496.75,111.17h4.6M496.75,139.17h4.6M510.64,122.50V150.50M508.34,122.50h4.6M508.34,150.50h4.6M522.24,134.25V162.25M519.94,134.25h4.6M519.94,162.25h4.6M533.83,145.00V173.00M531.53,145.00h4.6M531.53,173.00h4.6M545.42,156.23V184.23M543.12,156.23h4.6M543.12,184.23h4.6M557.02,169.10V196.90M554.72,169.10h4.6M554.72,196.90h4.6M568.62,183.72V210.92M566.32,183.72h4.6M566.32,210.92h4.6M580.21,199.90V226.50M577.91,199.90h4.6M577.91,226.50h4.6M591.81,217.00V244.80M589.51,217.00h4.6M589.51,244.80h4.6" fill="none" stroke="#00BFFF" stroke-width="1.1"/>
<rect x="365.40" y="65.50" width="54.30" height="186.00" rx="2.5" fill="#ffffff" fill-opacity="1" stroke="#d3d3d3" stroke-width="1"/>
<g stroke="#F08080" stroke-opacity="0.7" fill="none"><line x1="368.70" y1="73.50" x2="390.40" y2="73.50" stroke-width="1.6"/><path d="M379.40,68.10V78.90M376.90,68.10h5M376.90,78.90h5" stroke-width="1.2"/></g>
<g stroke="#A52A2A" stroke-opacity="0.7" fill="none"><line x1="368.70" y1="88.82" x2="390.40" y2="88.82" stroke-width="1.6"/><path d="M379.40,83.42V94.22M376.90,83.42h5M376.90,94.22h5" stroke-width="1.2"/></g>
<g stroke="#228B22" stroke-opacity="0.7" fill="none"><line x1="368.70" y1="104.14" x2="390.40" y2="104.14" stroke-width="1.6"/><path d="M379.40,98.74V109.54M376.90,98.74h5M376.90,109.54h5" stroke-width="1.2"/></g>
<g stroke="#FF00FF" stroke-opacity="0.7" fill="none"><line x1="368.70" y1="119.46" x2="390.40" y2="119.46" stroke-width="1.6"/><path d="M379.40,114.06V124.86M376.90,114.06h5M376.90,124.86h5" stroke-width="1.2"/></g>
<g stroke="#DAA520" stroke-opacity="0.7" fill="none"><line x1="368.70" y1="134.78" x2="390.40" y2="134.78" stroke-width="1.6"/><path d="M379.40,129.38V140.18M376.90,129.38h5M376.90,140.18h5" stroke-width="1.2"/></g>
<g stroke="#000080" stroke-opacity="0.7" fill="none"><line x1="368.70" y1="150.10" x2="390.40" y2="150.10" stroke-width="1.6"/><path d="M379.40,144.70V155.50M376.90,144.70h5M376.90,155.50h5" stroke-width="1.2"/></g>
<g stroke="#FFD700" stroke-opacity="0.7" fill="none"><line x1="368.70" y1="165.42" x2="390.40" y2="165.42" stroke-width="1.6"/><path d="M379.40,160.02V170.82M376.90,160.02h5M376.90,170.82h5" stroke-width="1.2"/></g>
<g stroke="#808000" stroke-opacity="0.7" fill="none"><line x1="368.70" y1="180.74" x2="390.40" y2="180.74" stroke-width="1.6"/><path d="M379.40,175.34V186.14M376.90,175.34h5M376.90,186.14h5" stroke-width="1.2"/></g>
<g stroke="#32CD32" stroke-opacity="0.7" fill="none"><line x1="368.70" y1="196.06" x2="390.40" y2="196.06" stroke-width="1.6"/><path d="M379.40,190.66V201.46M376.90,190.66h5M376.90,201.46h5" stroke-width="1.2"/></g>
<g stroke="#7FFFD4" stroke-opacity="0.7" fill="none"><line x1="368.70" y1="211.38" x2="390.40" y2="211.38" stroke-width="1.6"/><path d="M379.40,205.98V216.78M376.90,205.98h5M376.90,216.78h5" stroke-width="1.2"/></g>
<g stroke="#008080" stroke-opacity="0.7" fill="none"><line x1="368.70" y1="226.70" x2="390.40" y2="226.70" stroke-width="1.6"/><path d="M379.40,221.30V232.10M376.90,221.30h5M376.90,232.10h5" stroke-width="1.2"/></g>
<g stroke="#00BFFF" stroke-opacity="0.7" fill="none"><line x1="368.70" y1="242.02" x2="390.40" y2="242.02" stroke-width="1.6"/><path d="M379.40,236.62V247.42M376.90,236.62h5M376.90,247.42h5" stroke-width="1.2"/></g>
<rect x="360.5" y="0.5" width="242.00" height="256.80" fill="none" stroke="#7a7a7a" stroke-width="1"/>
<line x1="360.5" y1="0.5" x2="602.5" y2="0.5" stroke="#747474" stroke-width="1"/>
<line x1="357.70" y1="34.90" x2="360.50" y2="34.90" stroke="#606060" stroke-width="0.8"/>
<line x1="357.70" y1="72.00" x2="360.50" y2="72.00" stroke="#606060" stroke-width="0.8"/>
<line x1="357.70" y1="109.10" x2="360.50" y2="109.10" stroke="#606060" stroke-width="0.8"/>
<line x1="357.70" y1="146.20" x2="360.50" y2="146.20" stroke="#606060" stroke-width="0.8"/>
<line x1="357.70" y1="183.30" x2="360.50" y2="183.30" stroke="#606060" stroke-width="0.8"/>
<line x1="357.70" y1="220.40" x2="360.50" y2="220.40" stroke="#606060" stroke-width="0.8"/>
<line x1="371.50" y1="257.30" x2="371.50" y2="260.10" stroke="#606060" stroke-width="0.8"/>
<line x1="444.90" y1="257.30" x2="444.90" y2="260.10" stroke="#606060" stroke-width="0.8"/>
<line x1="518.40" y1="257.30" x2="518.40" y2="260.10" stroke="#606060" stroke-width="0.8"/>
<line x1="591.80" y1="257.30" x2="591.80" y2="260.10" stroke="#606060" stroke-width="0.8"/>
<polyline points="50.10,542.90 61.70,539.50 73.31,537.30 84.91,534.80 96.52,532.00 108.12,527.30 119.73,521.50 131.34,515.60 142.94,507.70 154.55,498.80 166.15,491.00 177.75,485.70 189.36,481.40 200.97,478.60 212.57,477.20 224.18,476.00 235.78,475.10 247.38,474.50 258.99,474.00 270.60,473.70" fill="none" stroke="#F08080" stroke-width="1.1" stroke-linejoin="round"/>
<path d="M50.10,541.70V544.10M47.80,541.70h4.6M47.80,544.10h4.6M61.70,538.30V540.70M59.41,538.30h4.6M59.41,540.70h4.6M73.31,536.10V538.50M71.01,536.10h4.6M71.01,538.50h4.6M84.91,533.60V536.00M82.61,533.60h4.6M82.61,536.00h4.6M96.52,530.80V533.20M94.22,530.80h4.6M94.22,533.20h4.6M108.12,526.10V528.50M105.83,526.10h4.6M105.83,528.50h4.6M119.73,520.30V522.70M117.43,520.30h4.6M117.43,522.70h4.6M131.34,514.40V516.80M129.03,514.40h4.6M129.03,516.80h4.6M142.94,506.50V508.90M140.64,506.50h4.6M140.64,508.90h4.6M154.55,497.60V500.00M152.25,497.60h4.6M152.25,500.00h4.6M166.15,489.66V492.34M163.85,489.66h4.6M163.85,492.34h4.6M177.75,484.22V487.18M175.45,484.22h4.6M175.45,487.18h4.6M189.36,479.78V483.02M187.06,479.78h4.6M187.06,483.02h4.6M200.97,476.84V480.36M198.66,476.84h4.6M198.66,480.36h4.6M212.57,475.30V479.10M210.27,475.30h4.6M210.27,479.10h4.6M224.18,473.96V478.04M221.88,473.96h4.6M221.88,478.04h4.6M235.78,472.92V477.28M233.48,472.92h4.6M233.48,477.28h4.6M247.38,472.18V476.82M245.08,472.18h4.6M245.08,476.82h4.6M258.99,471.54V476.46M256.69,471.54h4.6M256.69,476.46h4.6M270.60,471.10V476.30M268.30,471.10h4.6M268.30,476.30h4.6" fill="none" stroke="#F08080" stroke-width="1.0"/>
<polyline points="50.10,541.40 61.70,538.60 73.31,535.80 84.91,533.00 96.52,529.20 108.12,522.60 119.73,514.20 131.34,503.60 142.94,491.70 154.55,478.10 166.15,466.60 177.75,457.50 189.36,451.80 200.97,447.00 212.57,444.50 224.18,443.50 235.78,443.00 247.38,442.50 258.99,442.20 270.60,441.90" fill="none" stroke="#A52A2A" stroke-width="1.1" stroke-linejoin="round"/>
<path d="M50.10,540.20V542.60M47.80,540.20h4.6M47.80,542.60h4.6M61.70,537.40V539.80M59.41,537.40h4.6M59.41,539.80h4.6M73.31,534.60V537.00M71.01,534.60h4.6M71.01,537.00h4.6M84.91,531.80V534.20M82.61,531.80h4.6M82.61,534.20h4.6M96.52,528.00V530.40M94.22,528.00h4.6M94.22,530.40h4.6M108.12,521.40V523.80M105.83,521.40h4.6M105.83,523.80h4.6M119.73,513.00V515.40M117.43,513.00h4.6M117.43,515.40h4.6M131.34,502.40V504.80M129.03,502.40h4.6M129.03,504.80h4.6M142.94,490.50V492.90M140.64,490.50h4.6M140.64,492.90h4.6M154.55,476.90V479.30M152.25,476.90h4.6M152.25,479.30h4.6M166.15,465.26V467.94M163.85,465.26h4.6M163.85,467.94h4.6M177.75,456.02V458.98M175.45,456.02h4.6M175.45,458.98h4.6M189.36,450.18V453.42M187.06,450.18h4.6M187.06,453.42h4.6M200.97,445.24V448.76M198.66,445.24h4.6M198.66,448.76h4.6M212.57,442.60V446.40M210.27,442.60h4.6M210.27,446.40h4.6M224.18,441.46V445.54M221.88,441.46h4.6M221.88,445.54h4.6M235.78,440.82V445.18M233.48,440.82h4.6M233.48,445.18h4.6M247.38,440.18V444.82M245.08,440.18h4.6M245.08,444.82h4.6M258.99,439.74V444.66M256.69,439.74h4.6M256.69,444.66h4.6M270.60,439.30V444.50M268.30,439.30h4.6M268.30,444.50h4.6" fill="none" stroke="#A52A2A" stroke-width="1.0"/>
<polyline points="50.10,540.50 61.70,537.70 73.31,534.80 84.91,531.10 96.52,525.40 108.12,518.90 119.73,507.60 131.34,494.10 142.94,479.00 154.55,464.20 166.15,451.80 177.75,440.80 189.36,433.20 200.97,429.60 212.57,426.50 224.18,425.60 235.78,425.10 247.38,424.60 258.99,424.20 270.60,423.90" fill="none" stroke="#228B22" stroke-width="1.1" stroke-linejoin="round"/>
<path d="M50.10,539.30V541.70M47.80,539.30h4.6M47.80,541.70h4.6M61.70,536.50V538.90M59.41,536.50h4.6M59.41,538.90h4.6M73.31,533.60V536.00M71.01,533.60h4.6M71.01,536.00h4.6M84.91,529.90V532.30M82.61,529.90h4.6M82.61,532.30h4.6M96.52,524.20V526.60M94.22,524.20h4.6M94.22,526.60h4.6M108.12,517.70V520.10M105.83,517.70h4.6M105.83,520.10h4.6M119.73,506.40V508.80M117.43,506.40h4.6M117.43,508.80h4.6M131.34,492.90V495.30M129.03,492.90h4.6M129.03,495.30h4.6M142.94,477.80V480.20M140.64,477.80h4.6M140.64,480.20h4.6M154.55,463.00V465.40M152.25,463.00h4.6M152.25,465.40h4.6M166.15,450.46V453.14M163.85,450.46h4.6M163.85,453.14h4.6M177.75,439.32V442.28M175.45,439.32h4.6M175.45,442.28h4.6M189.36,431.58V434.82M187.06,431.58h4.6M187.06,434.82h4.6M200.97,427.84V431.36M198.66,427.84h4.6M198.66,431.36h4.6M212.57,424.60V428.40M210.27,424.60h4.6M210.27,428.40h4.6M224.18,423.56V427.64M221.88,423.56h4.6M221.88,427.64h4.6M235.78,422.92V427.28M233.48,422.92h4.6M233.48,427.28h4.6M247.38,422.28V426.92M245.08,422.28h4.6M245.08,426.92h4.6M258.99,421.74V426.66M256.69,421.74h4.6M256.69,426.66h4.6M270.60,421.30V426.50M268.30,421.30h4.6M268.30,426.50h4.6" fill="none" stroke="#228B22" stroke-width="1.0"/>
<polyline points="50.10,539.50 61.70,535.80 73.31,533.00 84.91,530.10 96.52,524.50 108.12,515.10 119.73,502.00 131.34,486.90 142.94,469.00 154.55,450.40 166.15,435.30 177.75,424.10 189.36,417.90 200.97,414.10 212.57,413.50 224.18,413.00 235.78,412.80 247.38,413.20 258.99,413.80 270.60,414.30" fill="none" stroke="#FF00FF" stroke-width="1.1" stroke-linejoin="round"/>
<path d="M50.10,538.30V540.70M47.80,538.30h4.6M47.80,540.70h4.6M61.70,534.60V537.00M59.41,534.60h4.6M59.41,537.00h4.6M73.31,531.80V534.20M71.01,531.80h4.6M71.01,534.20h4.6M84.91,528.90V531.30M82.61,528.90h4.6M82.61,531.30h4.6M96.52,523.30V525.70M94.22,523.30h4.6M94.22,525.70h4.6M108.12,513.90V516.30M105.83,513.90h4.6M105.83,516.30h4.6M119.73,500.80V503.20M117.43,500.80h4.6M117.43,503.20h4.6M131.34,485.70V488.10M129.03,485.70h4.6M129.03,488.10h4.6M142.94,467.80V470.20M140.64,467.80h4.6M140.64,470.20h4.6M154.55,449.20V451.60M152.25,449.20h4.6M152.25,451.60h4.6M166.15,433.96V436.64M163.85,433.96h4.6M163.85,436.64h4.6M177.75,422.62V425.58M175.45,422.62h4.6M175.45,425.58h4.6M189.36,416.28V419.52M187.06,416.28h4.6M187.06,419.52h4.6M200.97,412.34V415.86M198.66,412.34h4.6M198.66,415.86h4.6M212.57,411.60V415.40M210.27,411.60h4.6M210.27,415.40h4.6M224.18,410.96V415.04M221.88,410.96h4.6M221.88,415.04h4.6M235.78,410.62V414.98M233.48,410.62h4.6M233.48,414.98h4.6M247.38,410.88V415.52M245.08,410.88h4.6M245.08,415.52h4.6M258.99,411.34V416.26M256.69,411.34h4.6M256.69,416.26h4.6M270.60,411.70V416.90M268.30,411.70h4.6M268.30,416.90h4.6" fill="none" stroke="#FF00FF" stroke-width="1.0"/>
<polyline points="50.10,538.60 61.70,534.80 73.31,531.10 84.91,527.30 96.52,520.80 108.12,510.40 119.73,496.30 131.34,480.90 142.94,461.80 154.55,441.80 166.15,424.50 177.75,412.60 189.36,405.30 200.97,402.30 212.57,401.40 224.18,401.30 235.78,402.30 247.38,403.00 258.99,403.50 270.60,404.00" fill="none" stroke="#DAA520" stroke-width="1.1" stroke-linejoin="round"/>
<path d="M50.10,537.40V539.80M47.80,537.40h4.6M47.80,539.80h4.6M61.70,533.60V536.00M59.41,533.60h4.6M59.41,536.00h4.6M73.31,529.90V532.30M71.01,529.90h4.6M71.01,532.30h4.6M84.91,526.10V528.50M82.61,526.10h4.6M82.61,528.50h4.6M96.52,519.60V522.00M94.22,519.60h4.6M94.22,522.00h4.6M108.12,509.20V511.60M105.83,509.20h4.6M105.83,511.60h4.6M119.73,495.10V497.50M117.43,495.10h4.6M117.43,497.50h4.6M131.34,479.70V482.10M129.03,479.70h4.6M129.03,482.10h4.6M142.94,460.60V463.00M140.64,460.60h4.6M140.64,463.00h4.6M154.55,440.60V443.00M152.25,440.60h4.6M152.25,443.00h4.6M166.15,423.16V425.84M163.85,423.16h4.6M163.85,425.84h4.6M177.75,411.12V414.08M175.45,411.12h4.6M175.45,414.08h4.6M189.36,403.68V406.92M187.06,403.68h4.6M187.06,406.92h4.6M200.97,400.54V404.06M198.66,400.54h4.6M198.66,404.06h4.6M212.57,399.50V403.30M210.27,399.50h4.6M210.27,403.30h4.6M224.18,399.26V403.34M221.88,399.26h4.6M221.88,403.34h4.6M235.78,400.12V404.48M233.48,400.12h4.6M233.48,404.48h4.6M247.38,400.68V405.32M245.08,400.68h4.6M245.08,405.32h4.6M258.99,401.04V405.96M256.69,401.04h4.6M256.69,405.96h4.6M270.60,401.40V406.60M268.30,401.40h4.6M268.30,406.60h4.6" fill="none" stroke="#DAA520" stroke-width="1.0"/>
<polyline points="50.10,538.00 61.70,533.00 73.31,529.80 84.91,524.10 96.52,516.10 108.12,505.70 119.73,490.70 131.34,472.60 142.94,452.00 154.55,431.10 166.15,415.70 177.75,406.50 189.36,399.50 200.97,397.90 212.57,398.40 224.18,400.10 235.78,401.50 247.38,402.00 258.99,402.30 270.60,402.60" fill="none" stroke="#000080" stroke-width="1.1" stroke-linejoin="round"/>
<path d="M50.10,536.80V539.20M47.80,536.80h4.6M47.80,539.20h4.6M61.70,531.80V534.20M59.41,531.80h4.6M59.41,534.20h4.6M73.31,528.60V531.00M71.01,528.60h4.6M71.01,531.00h4.6M84.91,522.90V525.30M82.61,522.90h4.6M82.61,525.30h4.6M96.52,514.90V517.30M94.22,514.90h4.6M94.22,517.30h4.6M108.12,504.50V506.90M105.83,504.50h4.6M105.83,506.90h4.6M119.73,489.50V491.90M117.43,489.50h4.6M117.43,491.90h4.6M131.34,471.40V473.80M129.03,471.40h4.6M129.03,473.80h4.6M142.94,450.80V453.20M140.64,450.80h4.6M140.64,453.20h4.6M154.55,429.90V432.30M152.25,429.90h4.6M152.25,432.30h4.6M166.15,414.36V417.04M163.85,414.36h4.6M163.85,417.04h4.6M177.75,405.02V407.98M175.45,405.02h4.6M175.45,407.98h4.6M189.36,397.88V401.12M187.06,397.88h4.6M187.06,401.12h4.6M200.97,396.14V399.66M198.66,396.14h4.6M198.66,399.66h4.6M212.57,396.50V400.30M210.27,396.50h4.6M210.27,400.30h4.6M224.18,398.06V402.14M221.88,398.06h4.6M221.88,402.14h4.6M235.78,399.32V403.68M233.48,399.32h4.6M233.48,403.68h4.6M247.38,399.68V404.32M245.08,399.68h4.6M245.08,404.32h4.6M258.99,399.84V404.76M256.69,399.84h4.6M256.69,404.76h4.6M270.60,400.00V405.20M268.30,400.00h4.6M268.30,405.20h4.6" fill="none" stroke="#000080" stroke-width="1.0"/>
<polyline points="50.10,536.20 61.70,531.10 73.31,526.40 84.91,519.80 96.52,509.50 108.12,494.50 119.73,473.80 131.34,451.20 142.94,426.70 154.55,407.30 166.15,390.90 177.75,384.20 189.36,381.00 200.97,381.40 212.57,383.40 224.18,386.10 235.78,388.70 247.38,391.00 258.99,392.60 270.60,393.80" fill="none" stroke="#FFD700" stroke-width="1.1" stroke-linejoin="round"/>
<path d="M50.10,535.00V537.40M47.80,535.00h4.6M47.80,537.40h4.6M61.70,529.90V532.30M59.41,529.90h4.6M59.41,532.30h4.6M73.31,525.20V527.60M71.01,525.20h4.6M71.01,527.60h4.6M84.91,518.60V521.00M82.61,518.60h4.6M82.61,521.00h4.6M96.52,508.30V510.70M94.22,508.30h4.6M94.22,510.70h4.6M108.12,493.30V495.70M105.83,493.30h4.6M105.83,495.70h4.6M119.73,472.60V475.00M117.43,472.60h4.6M117.43,475.00h4.6M131.34,450.00V452.40M129.03,450.00h4.6M129.03,452.40h4.6M142.94,425.50V427.90M140.64,425.50h4.6M140.64,427.90h4.6M154.55,406.10V408.50M152.25,406.10h4.6M152.25,408.50h4.6M166.15,389.56V392.24M163.85,389.56h4.6M163.85,392.24h4.6M177.75,382.72V385.68M175.45,382.72h4.6M175.45,385.68h4.6M189.36,379.38V382.62M187.06,379.38h4.6M187.06,382.62h4.6M200.97,379.64V383.16M198.66,379.64h4.6M198.66,383.16h4.6M212.57,381.50V385.30M210.27,381.50h4.6M210.27,385.30h4.6M224.18,384.06V388.14M221.88,384.06h4.6M221.88,388.14h4.6M235.78,386.52V390.88M233.48,386.52h4.6M233.48,390.88h4.6M247.38,388.68V393.32M245.08,388.68h4.6M245.08,393.32h4.6M258.99,390.14V395.06M256.69,390.14h4.6M256.69,395.06h4.6M270.60,391.20V396.40M268.30,391.20h4.6M268.30,396.40h4.6" fill="none" stroke="#FFD700" stroke-width="1.0"/>
<polyline points="50.10,534.80 61.70,530.10 73.31,525.40 84.91,517.90 96.52,506.70 108.12,490.30 119.73,468.20 131.34,442.20 142.94,415.90 154.55,397.80 166.15,381.40 177.75,375.40 189.36,372.00 200.97,372.90 212.57,375.70 224.18,378.50 235.78,380.50 247.38,384.00 258.99,386.00 270.60,387.70" fill="none" stroke="#808000" stroke-width="1.1" stroke-linejoin="round"/>
<path d="M50.10,533.60V536.00M47.80,533.60h4.6M47.80,536.00h4.6M61.70,528.90V531.30M59.41,528.90h4.6M59.41,531.30h4.6M73.31,524.20V526.60M71.01,524.20h4.6M71.01,526.60h4.6M84.91,516.70V519.10M82.61,516.70h4.6M82.61,519.10h4.6M96.52,505.50V507.90M94.22,505.50h4.6M94.22,507.90h4.6M108.12,489.10V491.50M105.83,489.10h4.6M105.83,491.50h4.6M119.73,467.00V469.40M117.43,467.00h4.6M117.43,469.40h4.6M131.34,441.00V443.40M129.03,441.00h4.6M129.03,443.40h4.6M142.94,414.70V417.10M140.64,414.70h4.6M140.64,417.10h4.6M154.55,396.60V399.00M152.25,396.60h4.6M152.25,399.00h4.6M166.15,380.06V382.74M163.85,380.06h4.6M163.85,382.74h4.6M177.75,373.92V376.88M175.45,373.92h4.6M175.45,376.88h4.6M189.36,370.38V373.62M187.06,370.38h4.6M187.06,373.62h4.6M200.97,371.14V374.66M198.66,371.14h4.6M198.66,374.66h4.6M212.57,373.80V377.60M210.27,373.80h4.6M210.27,377.60h4.6M224.18,376.46V380.54M221.88,376.46h4.6M221.88,380.54h4.6M235.78,378.32V382.68M233.48,378.32h4.6M233.48,382.68h4.6M247.38,381.68V386.32M245.08,381.68h4.6M245.08,386.32h4.6M258.99,383.54V388.46M256.69,383.54h4.6M256.69,388.46h4.6M270.60,385.10V390.30M268.30,385.10h4.6M268.30,390.30h4.6" fill="none" stroke="#808000" stroke-width="1.0"/>
<polyline points="50.10,533.50 61.70,528.30 73.31,522.60 84.91,515.10 96.52,502.90 108.12,484.10 119.73,460.70 131.34,433.80 142.94,407.60 154.55,386.20 166.15,372.50 177.75,364.50 189.36,363.50 200.97,364.50 212.57,368.50 224.18,372.00 235.78,377.00 247.38,380.50 258.99,383.00 270.60,384.60" fill="none" stroke="#32CD32" stroke-width="1.1" stroke-linejoin="round"/>
<path d="M50.10,532.30V534.70M47.80,532.30h4.6M47.80,534.70h4.6M61.70,527.10V529.50M59.41,527.10h4.6M59.41,529.50h4.6M73.31,521.40V523.80M71.01,521.40h4.6M71.01,523.80h4.6M84.91,513.90V516.30M82.61,513.90h4.6M82.61,516.30h4.6M96.52,501.70V504.10M94.22,501.70h4.6M94.22,504.10h4.6M108.12,482.90V485.30M105.83,482.90h4.6M105.83,485.30h4.6M119.73,459.50V461.90M117.43,459.50h4.6M117.43,461.90h4.6M131.34,432.60V435.00M129.03,432.60h4.6M129.03,435.00h4.6M142.94,406.40V408.80M140.64,406.40h4.6M140.64,408.80h4.6M154.55,385.00V387.40M152.25,385.00h4.6M152.25,387.40h4.6M166.15,371.16V373.84M163.85,371.16h4.6M163.85,373.84h4.6M177.75,363.02V365.98M175.45,363.02h4.6M175.45,365.98h4.6M189.36,361.88V365.12M187.06,361.88h4.6M187.06,365.12h4.6M200.97,362.74V366.26M198.66,362.74h4.6M198.66,366.26h4.6M212.57,366.60V370.40M210.27,366.60h4.6M210.27,370.40h4.6M224.18,369.96V374.04M221.88,369.96h4.6M221.88,374.04h4.6M235.78,374.82V379.18M233.48,374.82h4.6M233.48,379.18h4.6M247.38,378.18V382.82M245.08,378.18h4.6M245.08,382.82h4.6M258.99,380.54V385.46M256.69,380.54h4.6M256.69,385.46h4.6M270.60,382.00V387.20M268.30,382.00h4.6M268.30,387.20h4.6" fill="none" stroke="#32CD32" stroke-width="1.0"/>
<polyline points="50.10,531.60 61.70,525.40 73.31,517.00 84.91,506.70 96.52,491.60 108.12,471.90 119.73,446.20 131.34,419.50 142.94,393.20 154.55,371.00 166.15,358.00 177.75,353.20 189.36,355.10 200.97,360.70 212.57,366.70 224.18,373.00 235.78,379.50 247.38,382.50 258.99,384.50 270.60,385.60" fill="none" stroke="#7FFFD4" stroke-width="1.1" stroke-linejoin="round"/>
<path d="M50.10,530.40V532.80M47.80,530.40h4.6M47.80,532.80h4.6M61.70,524.20V526.60M59.41,524.20h4.6M59.41,526.60h4.6M73.31,515.80V518.20M71.01,515.80h4.6M71.01,518.20h4.6M84.91,505.50V507.90M82.61,505.50h4.6M82.61,507.90h4.6M96.52,490.40V492.80M94.22,490.40h4.6M94.22,492.80h4.6M108.12,470.70V473.10M105.83,470.70h4.6M105.83,473.10h4.6M119.73,445.00V447.40M117.43,445.00h4.6M117.43,447.40h4.6M131.34,418.30V420.70M129.03,418.30h4.6M129.03,420.70h4.6M142.94,392.00V394.40M140.64,392.00h4.6M140.64,394.40h4.6M154.55,369.80V372.20M152.25,369.80h4.6M152.25,372.20h4.6M166.15,356.66V359.34M163.85,356.66h4.6M163.85,359.34h4.6M177.75,351.72V354.68M175.45,351.72h4.6M175.45,354.68h4.6M189.36,353.48V356.72M187.06,353.48h4.6M187.06,356.72h4.6M200.97,358.94V362.46M198.66,358.94h4.6M198.66,362.46h4.6M212.57,364.80V368.60M210.27,364.80h4.6M210.27,368.60h4.6M224.18,370.96V375.04M221.88,370.96h4.6M221.88,375.04h4.6M235.78,377.32V381.68M233.48,377.32h4.6M233.48,381.68h4.6M247.38,380.18V384.82M245.08,380.18h4.6M245.08,384.82h4.6M258.99,382.04V386.96M256.69,382.04h4.6M256.69,386.96h4.6M270.60,383.00V388.20M268.30,383.00h4.6M268.30,388.20h4.6" fill="none" stroke="#7FFFD4" stroke-width="1.0"/>
<polyline points="50.10,524.90 61.70,516.10 73.31,506.10 84.91,490.70 96.52,467.80 108.12,447.20 119.73,419.50 131.34,393.20 142.94,370.60 154.55,353.80 166.15,344.00 177.75,341.00 189.36,343.40 200.97,352.30 212.57,363.30 224.18,376.70 235.78,382.50 247.38,386.00 258.99,388.20 270.60,389.70" fill="none" stroke="#008080" stroke-width="1.1" stroke-linejoin="round"/>
<path d="M50.10,523.70V526.10M47.80,523.70h4.6M47.80,526.10h4.6M61.70,514.90V517.30M59.41,514.90h4.6M59.41,517.30h4.6M73.31,504.90V507.30M71.01,504.90h4.6M71.01,507.30h4.6M84.91,489.50V491.90M82.61,489.50h4.6M82.61,491.90h4.6M96.52,466.60V469.00M94.22,466.60h4.6M94.22,469.00h4.6M108.12,446.00V448.40M105.83,446.00h4.6M105.83,448.40h4.6M119.73,418.30V420.70M117.43,418.30h4.6M117.43,420.70h4.6M131.34,392.00V394.40M129.03,392.00h4.6M129.03,394.40h4.6M142.94,369.40V371.80M140.64,369.40h4.6M140.64,371.80h4.6M154.55,352.60V355.00M152.25,352.60h4.6M152.25,355.00h4.6M166.15,342.66V345.34M163.85,342.66h4.6M163.85,345.34h4.6M177.75,339.52V342.48M175.45,339.52h4.6M175.45,342.48h4.6M189.36,341.78V345.02M187.06,341.78h4.6M187.06,345.02h4.6M200.97,350.54V354.06M198.66,350.54h4.6M198.66,354.06h4.6M212.57,361.40V365.20M210.27,361.40h4.6M210.27,365.20h4.6M224.18,374.66V378.74M221.88,374.66h4.6M221.88,378.74h4.6M235.78,380.32V384.68M233.48,380.32h4.6M233.48,384.68h4.6M247.38,383.68V388.32M245.08,383.68h4.6M245.08,388.32h4.6M258.99,385.74V390.66M256.69,385.74h4.6M256.69,390.66h4.6M270.60,387.10V392.30M268.30,387.10h4.6M268.30,392.30h4.6" fill="none" stroke="#008080" stroke-width="1.0"/>
<polyline points="50.10,512.30 61.70,500.00 73.31,484.00 84.91,466.00 96.52,442.00 108.12,413.20 119.73,387.00 131.34,363.20 142.94,346.00 154.55,333.50 166.15,328.20 177.75,330.70 189.36,338.20 200.97,349.40 212.57,362.60 224.18,374.80 235.78,385.00 247.38,390.00 258.99,394.00 270.60,396.90" fill="none" stroke="#00BFFF" stroke-width="1.1" stroke-linejoin="round"/>
<path d="M50.10,502.00V522.60M47.80,502.00h4.6M47.80,522.60h4.6M61.70,488.00V512.00M59.41,488.00h4.6M59.41,512.00h4.6M73.31,470.00V498.00M71.01,470.00h4.6M71.01,498.00h4.6M84.91,450.50V481.50M82.61,450.50h4.6M82.61,481.50h4.6M96.52,425.20V458.80M94.22,425.20h4.6M94.22,458.80h4.6M108.12,395.30V431.10M105.83,395.30h4.6M105.83,431.10h4.6M119.73,368.10V405.90M117.43,368.10h4.6M117.43,405.90h4.6M131.34,344.30V382.10M129.03,344.30h4.6M129.03,382.10h4.6M142.94,327.50V364.50M140.64,327.50h4.6M140.64,364.50h4.6M154.55,315.70V351.30M152.25,315.70h4.6M152.25,351.30h4.6M166.15,309.70V346.70M163.85,309.70h4.6M163.85,346.70h4.6M177.75,311.90V349.50M175.45,311.90h4.6M175.45,349.50h4.6M189.36,318.70V357.70M187.06,318.70h4.6M187.06,357.70h4.6M200.97,330.40V368.40M198.66,330.40h4.6M198.66,368.40h4.6M212.57,343.60V381.60M210.27,343.60h4.6M210.27,381.60h4.6M224.18,356.50V393.10M221.88,356.50h4.6M221.88,393.10h4.6M235.78,363.50V406.50M233.48,363.50h4.6M233.48,406.50h4.6M247.38,369.50V410.50M245.08,369.50h4.6M245.08,410.50h4.6M258.99,374.00V414.00M256.69,374.00h4.6M256.69,414.00h4.6M270.60,377.10V416.70M268.30,377.10h4.6M268.30,416.70h4.6" fill="none" stroke="#00BFFF" stroke-width="1.1"/>
<rect x="44.60" y="303.70" width="53.40" height="186.00" rx="2.5" fill="#ffffff" fill-opacity="1" stroke="#d3d3d3" stroke-width="1"/>
<g stroke="#F08080" stroke-opacity="0.7" fill="none"><line x1="47.90" y1="311.70" x2="69.60" y2="311.70" stroke-width="1.6"/><path d="M58.60,306.30V317.10M56.10,306.30h5M56.10,317.10h5" stroke-width="1.2"/></g>
<g stroke="#A52A2A" stroke-opacity="0.7" fill="none"><line x1="47.90" y1="327.02" x2="69.60" y2="327.02" stroke-width="1.6"/><path d="M58.60,321.62V332.42M56.10,321.62h5M56.10,332.42h5" stroke-width="1.2"/></g>
<g stroke="#228B22" stroke-opacity="0.7" fill="none"><line x1="47.90" y1="342.34" x2="69.60" y2="342.34" stroke-width="1.6"/><path d="M58.60,336.94V347.74M56.10,336.94h5M56.10,347.74h5" stroke-width="1.2"/></g>
<g stroke="#FF00FF" stroke-opacity="0.7" fill="none"><line x1="47.90" y1="357.66" x2="69.60" y2="357.66" stroke-width="1.6"/><path d="M58.60,352.26V363.06M56.10,352.26h5M56.10,363.06h5" stroke-width="1.2"/></g>
<g stroke="#DAA520" stroke-opacity="0.7" fill="none"><line x1="47.90" y1="372.98" x2="69.60" y2="372.98" stroke-width="1.6"/><path d="M58.60,367.58V378.38M56.10,367.58h5M56.10,378.38h5" stroke-width="1.2"/></g>
<g stroke="#000080" stroke-opacity="0.7" fill="none"><line x1="47.90" y1="388.30" x2="69.60" y2="388.30" stroke-width="1.6"/><path d="M58.60,382.90V393.70M56.10,382.90h5M56.10,393.70h5" stroke-width="1.2"/></g>
<g stroke="#FFD700" stroke-opacity="0.7" fill="none"><line x1="47.90" y1="403.62" x2="69.60" y2="403.62" stroke-width="1.6"/><path d="M58.60,398.22V409.02M56.10,398.22h5M56.10,409.02h5" stroke-width="1.2"/></g>
<g stroke="#808000" stroke-opacity="0.7" fill="none"><line x1="47.90" y1="418.94" x2="69.60" y2="418.94" stroke-width="1.6"/><path d="M58.60,413.54V424.34M56.10,413.54h5M56.10,424.34h5" stroke-width="1.2"/></g>
<g stroke="#32CD32" stroke-opacity="0.7" fill="none"><line x1="47.90" y1="434.26" x2="69.60" y2="434.26" stroke-width="1.6"/><path d="M58.60,428.86V439.66M56.10,428.86h5M56.10,439.66h5" stroke-width="1.2"/></g>
<g stroke="#7FFFD4" stroke-opacity="0.7" fill="none"><line x1="47.90" y1="449.58" x2="69.60" y2="449.58" stroke-width="1.6"/><path d="M58.60,444.18V454.98M56.10,444.18h5M56.10,454.98h5" stroke-width="1.2"/></g>
<g stroke="#008080" stroke-opacity="0.7" fill="none"><line x1="47.90" y1="464.90" x2="69.60" y2="464.90" stroke-width="1.6"/><path d="M58.60,459.50V470.30M56.10,459.50h5M56.10,470.30h5" stroke-width="1.2"/></g>
<g stroke="#00BFFF" stroke-opacity="0.7" fill="none"><line x1="47.90" y1="480.22" x2="69.60" y2="480.22" stroke-width="1.6"/><path d="M58.60,474.82V485.62M56.10,474.82h5M56.10,485.62h5" stroke-width="1.2"/></g>
<rect x="39.1" y="298.5" width="242.40" height="256.60" fill="none" stroke="#7a7a7a" stroke-width="1"/>
<line x1="36.30" y1="546.30" x2="39.10" y2="546.30" stroke="#606060" stroke-width="0.8"/>
<line x1="36.30" y1="515.30" x2="39.10" y2="515.30" stroke="#606060" stroke-width="0.8"/>
<line x1="36.30" y1="484.30" x2="39.10" y2="484.30" stroke="#606060" stroke-width="0.8"/>
<line x1="36.30" y1="453.30" x2="39.10" y2="453.30" stroke="#606060" stroke-width="0.8"/>
<line x1="36.30" y1="422.30" x2="39.10" y2="422.30" stroke="#606060" stroke-width="0.8"/>
<line x1="36.30" y1="391.30" x2="39.10" y2="391.30" stroke="#606060" stroke-width="0.8"/>
<line x1="36.30" y1="360.30" x2="39.10" y2="360.30" stroke="#606060" stroke-width="0.8"/>
<line x1="36.30" y1="329.30" x2="39.10" y2="329.30" stroke="#606060" stroke-width="0.8"/>
<line x1="50.10" y1="555.10" x2="50.10" y2="557.90" stroke="#606060" stroke-width="0.8"/>
<line x1="123.60" y1="555.10" x2="123.60" y2="557.90" stroke="#606060" stroke-width="0.8"/>
<line x1="197.10" y1="555.10" x2="197.10" y2="557.90" stroke="#606060" stroke-width="0.8"/>
<line x1="270.60" y1="555.10" x2="270.60" y2="557.90" stroke="#606060" stroke-width="0.8"/>
<polyline points="371.50,537.80 383.10,533.04 394.69,528.01 406.29,522.33 417.88,512.98 429.48,502.83 441.07,490.83 452.67,472.73 464.26,448.64 475.86,426.59 487.45,408.30 499.05,393.68 510.64,382.00 522.24,374.00 533.83,368.50 545.42,365.00 557.02,363.40 568.62,362.50 580.21,362.01 591.81,361.80" fill="none" stroke="#F08080" stroke-width="1.1" stroke-linejoin="round"/>
<path d="M371.50,536.60V539.00M369.20,536.60h4.6M369.20,539.00h4.6M383.10,531.84V534.24M380.80,531.84h4.6M380.80,534.24h4.6M394.69,526.81V529.21M392.39,526.81h4.6M392.39,529.21h4.6M406.29,521.13V523.53M403.99,521.13h4.6M403.99,523.53h4.6M417.88,511.78V514.18M415.58,511.78h4.6M415.58,514.18h4.6M429.48,501.63V504.03M427.18,501.63h4.6M427.18,504.03h4.6M441.07,489.63V492.03M438.77,489.63h4.6M438.77,492.03h4.6M452.67,471.53V473.93M450.37,471.53h4.6M450.37,473.93h4.6M464.26,447.44V449.84M461.96,447.44h4.6M461.96,449.84h4.6M475.86,425.18V428.00M473.56,425.18h4.6M473.56,428.00h4.6M487.45,406.68V409.92M485.15,406.68h4.6M485.15,409.92h4.6M499.05,391.85V395.50M496.75,391.85h4.6M496.75,395.50h4.6M510.64,379.96V384.04M508.34,379.96h4.6M508.34,384.04h4.6M522.24,371.75V376.25M519.94,371.75h4.6M519.94,376.25h4.6M533.83,366.05V370.96M531.53,366.05h4.6M531.53,370.96h4.6M545.42,362.34V367.66M543.12,362.34h4.6M543.12,367.66h4.6M557.02,360.52V366.27M554.72,360.52h4.6M554.72,366.27h4.6M568.62,359.42V365.58M566.32,359.42h4.6M566.32,365.58h4.6M580.21,358.72V365.30M577.91,358.72h4.6M577.91,365.30h4.6M591.81,358.30V365.30M589.51,358.30h4.6M589.51,365.30h4.6" fill="none" stroke="#F08080" stroke-width="1.0"/>
<polyline points="371.50,537.30 383.10,532.11 394.69,527.12 406.29,521.34 417.88,511.75 429.48,501.56 441.07,489.27 452.67,470.59 464.26,446.30 475.86,424.60 487.45,406.70 499.05,392.44 510.64,381.00 522.24,373.00 533.83,367.80 545.42,364.50 557.02,362.95 568.62,362.00 580.21,361.35 591.81,361.00" fill="none" stroke="#A52A2A" stroke-width="1.1" stroke-linejoin="round"/>
<path d="M371.50,536.10V538.50M369.20,536.10h4.6M369.20,538.50h4.6M383.10,530.91V533.31M380.80,530.91h4.6M380.80,533.31h4.6M394.69,525.92V528.33M392.39,525.92h4.6M392.39,528.33h4.6M406.29,520.14V522.54M403.99,520.14h4.6M403.99,522.54h4.6M417.88,510.55V512.95M415.58,510.55h4.6M415.58,512.95h4.6M429.48,500.36V502.76M427.18,500.36h4.6M427.18,502.76h4.6M441.07,488.07V490.47M438.77,488.07h4.6M438.77,490.47h4.6M452.67,469.39V471.79M450.37,469.39h4.6M450.37,471.79h4.6M464.26,445.10V447.50M461.96,445.10h4.6M461.96,447.50h4.6M475.86,423.19V426.01M473.56,423.19h4.6M473.56,426.01h4.6M487.45,405.08V408.32M485.15,405.08h4.6M485.15,408.32h4.6M499.05,390.62V394.27M496.75,390.62h4.6M496.75,394.27h4.6M510.64,378.96V383.04M508.34,378.96h4.6M508.34,383.04h4.6M522.24,370.75V375.25M519.94,370.75h4.6M519.94,375.25h4.6M533.83,365.34V370.25M531.53,365.34h4.6M531.53,370.25h4.6M545.42,361.84V367.16M543.12,361.84h4.6M543.12,367.16h4.6M557.02,360.07V365.82M554.72,360.07h4.6M554.72,365.82h4.6M568.62,358.92V365.08M566.32,358.92h4.6M566.32,365.08h4.6M580.21,358.06V364.64M577.91,358.06h4.6M577.91,364.64h4.6M591.81,357.50V364.50M589.51,357.50h4.6M589.51,364.50h4.6" fill="none" stroke="#A52A2A" stroke-width="1.0"/>
<polyline points="371.50,536.80 383.10,532.17 394.69,527.26 406.29,521.70 417.88,512.48 429.48,502.45 441.07,490.58 452.67,472.61 464.26,448.64 475.86,426.59 487.45,408.30 499.05,394.57 510.64,384.00 522.24,377.00 533.83,374.42 545.42,372.80 557.02,371.45 568.62,370.40 580.21,369.55 591.81,368.90" fill="none" stroke="#228B22" stroke-width="1.1" stroke-linejoin="round"/>
<path d="M371.50,535.60V538.00M369.20,535.60h4.6M369.20,538.00h4.6M383.10,530.97V533.37M380.80,530.97h4.6M380.80,533.37h4.6M394.69,526.06V528.46M392.39,526.06h4.6M392.39,528.46h4.6M406.29,520.50V522.90M403.99,520.50h4.6M403.99,522.90h4.6M417.88,511.28V513.68M415.58,511.28h4.6M415.58,513.68h4.6M429.48,501.25V503.65M427.18,501.25h4.6M427.18,503.65h4.6M441.07,489.38V491.78M438.77,489.38h4.6M438.77,491.78h4.6M452.67,471.41V473.81M450.37,471.41h4.6M450.37,473.81h4.6M464.26,447.44V449.84M461.96,447.44h4.6M461.96,449.84h4.6M475.86,425.18V428.00M473.56,425.18h4.6M473.56,428.00h4.6M487.45,406.68V409.92M485.15,406.68h4.6M485.15,409.92h4.6M499.05,392.75V396.40M496.75,392.75h4.6M496.75,396.40h4.6M510.64,381.96V386.04M508.34,381.96h4.6M508.34,386.04h4.6M522.24,374.75V379.25M519.94,374.75h4.6M519.94,379.25h4.6M533.83,371.97V376.88M531.53,371.97h4.6M531.53,376.88h4.6M545.42,370.14V375.46M543.12,370.14h4.6M543.12,375.46h4.6M557.02,368.58V374.32M554.72,368.58h4.6M554.72,374.32h4.6M568.62,367.32V373.48M566.32,367.32h4.6M566.32,373.48h4.6M580.21,366.26V372.84M577.91,366.26h4.6M577.91,372.84h4.6M591.81,365.40V372.40M589.51,365.40h4.6M589.51,372.40h4.6" fill="none" stroke="#228B22" stroke-width="1.0"/>
<polyline points="371.50,536.30 383.10,531.24 394.69,526.38 406.29,520.71 417.88,511.25 429.48,501.19 441.07,489.02 452.67,470.46 464.26,446.30 475.86,424.60 487.45,406.70 499.05,392.17 510.64,380.50 522.24,372.50 533.83,367.19 545.42,364.10 557.02,363.23 568.62,362.60 580.21,361.81 591.81,361.00" fill="none" stroke="#FF00FF" stroke-width="1.1" stroke-linejoin="round"/>
<path d="M371.50,535.10V537.50M369.20,535.10h4.6M369.20,537.50h4.6M383.10,530.04V532.44M380.80,530.04h4.6M380.80,532.44h4.6M394.69,525.17V527.58M392.39,525.17h4.6M392.39,527.58h4.6M406.29,519.51V521.91M403.99,519.51h4.6M403.99,521.91h4.6M417.88,510.05V512.45M415.58,510.05h4.6M415.58,512.45h4.6M429.48,499.99V502.39M427.18,499.99h4.6M427.18,502.39h4.6M441.07,487.82V490.22M438.77,487.82h4.6M438.77,490.22h4.6M452.67,469.26V471.66M450.37,469.26h4.6M450.37,471.66h4.6M464.26,445.10V447.50M461.96,445.10h4.6M461.96,447.50h4.6M475.86,423.19V426.01M473.56,423.19h4.6M473.56,426.01h4.6M487.45,405.08V408.32M485.15,405.08h4.6M485.15,408.32h4.6M499.05,390.34V394.00M496.75,390.34h4.6M496.75,394.00h4.6M510.64,378.46V382.54M508.34,378.46h4.6M508.34,382.54h4.6M522.24,370.25V374.75M519.94,370.25h4.6M519.94,374.75h4.6M533.83,364.74V369.65M531.53,364.74h4.6M531.53,369.65h4.6M545.42,361.44V366.76M543.12,361.44h4.6M543.12,366.76h4.6M557.02,360.35V366.10M554.72,360.35h4.6M554.72,366.10h4.6M568.62,359.52V365.68M566.32,359.52h4.6M566.32,365.68h4.6M580.21,358.52V365.10M577.91,358.52h4.6M577.91,365.10h4.6M591.81,357.50V364.50M589.51,357.50h4.6M589.51,364.50h4.6" fill="none" stroke="#FF00FF" stroke-width="1.0"/>
<polyline points="371.50,537.30 383.10,532.70 394.69,527.73 406.29,522.15 417.88,512.94 429.48,502.85 441.07,490.98 452.67,473.08 464.26,449.11 475.86,427.00 487.45,408.63 499.05,393.99 510.64,382.50 522.24,375.00 533.83,369.54 545.42,366.00 557.02,364.50 568.62,363.50 580.21,362.64 591.81,362.00" fill="none" stroke="#DAA520" stroke-width="1.1" stroke-linejoin="round"/>
<path d="M371.50,536.10V538.50M369.20,536.10h4.6M369.20,538.50h4.6M383.10,531.50V533.90M380.80,531.50h4.6M380.80,533.90h4.6M394.69,526.53V528.93M392.39,526.53h4.6M392.39,528.93h4.6M406.29,520.95V523.35M403.99,520.95h4.6M403.99,523.35h4.6M417.88,511.74V514.14M415.58,511.74h4.6M415.58,514.14h4.6M429.48,501.65V504.05M427.18,501.65h4.6M427.18,504.05h4.6M441.07,489.78V492.18M438.77,489.78h4.6M438.77,492.18h4.6M452.67,471.88V474.28M450.37,471.88h4.6M450.37,474.28h4.6M464.26,447.91V450.31M461.96,447.91h4.6M461.96,450.31h4.6M475.86,425.59V428.41M473.56,425.59h4.6M473.56,428.41h4.6M487.45,407.01V410.25M485.15,407.01h4.6M485.15,410.25h4.6M499.05,392.16V395.81M496.75,392.16h4.6M496.75,395.81h4.6M510.64,380.46V384.54M508.34,380.46h4.6M508.34,384.54h4.6M522.24,372.75V377.25M519.94,372.75h4.6M519.94,377.25h4.6M533.83,367.09V372.00M531.53,367.09h4.6M531.53,372.00h4.6M545.42,363.34V368.66M543.12,363.34h4.6M543.12,368.66h4.6M557.02,361.62V367.37M554.72,361.62h4.6M554.72,367.37h4.6M568.62,360.42V366.58M566.32,360.42h4.6M566.32,366.58h4.6M580.21,359.35V365.93M577.91,359.35h4.6M577.91,365.93h4.6M591.81,358.50V365.50M589.51,358.50h4.6M589.51,365.50h4.6" fill="none" stroke="#DAA520" stroke-width="1.0"/>
<polyline points="371.50,535.29 383.10,530.32 394.69,525.49 406.29,519.66 417.88,510.03 429.48,499.91 441.07,487.39 452.67,468.24 464.26,444.02 475.86,422.65 487.45,405.14 499.05,390.31 510.64,378.50 522.24,371.00 533.83,366.30 545.42,363.50 557.02,362.58 568.62,361.80 580.21,360.42 591.81,358.60" fill="none" stroke="#000080" stroke-width="1.1" stroke-linejoin="round"/>
<path d="M371.50,534.09V536.49M369.20,534.09h4.6M369.20,536.49h4.6M383.10,529.12V531.52M380.80,529.12h4.6M380.80,531.52h4.6M394.69,524.29V526.69M392.39,524.29h4.6M392.39,526.69h4.6M406.29,518.46V520.86M403.99,518.46h4.6M403.99,520.86h4.6M417.88,508.83V511.23M415.58,508.83h4.6M415.58,511.23h4.6M429.48,498.71V501.11M427.18,498.71h4.6M427.18,501.11h4.6M441.07,486.19V488.59M438.77,486.19h4.6M438.77,488.59h4.6M452.67,467.04V469.44M450.37,467.04h4.6M450.37,469.44h4.6M464.26,442.82V445.22M461.96,442.82h4.6M461.96,445.22h4.6M475.86,421.24V424.06M473.56,421.24h4.6M473.56,424.06h4.6M487.45,403.53V406.76M485.15,403.53h4.6M485.15,406.76h4.6M499.05,388.48V392.14M496.75,388.48h4.6M496.75,392.14h4.6M510.64,376.46V380.54M508.34,376.46h4.6M508.34,380.54h4.6M522.24,368.75V373.25M519.94,368.75h4.6M519.94,373.25h4.6M533.83,363.84V368.75M531.53,363.84h4.6M531.53,368.75h4.6M545.42,360.84V366.16M543.12,360.84h4.6M543.12,366.16h4.6M557.02,359.71V365.45M554.72,359.71h4.6M554.72,365.45h4.6M568.62,358.72V364.88M566.32,358.72h4.6M566.32,364.88h4.6M580.21,357.13V363.71M577.91,357.13h4.6M577.91,363.71h4.6M591.81,355.10V362.10M589.51,355.10h4.6M589.51,362.10h4.6" fill="none" stroke="#000080" stroke-width="1.0"/>
<polyline points="371.50,537.80 383.10,534.28 394.69,529.23 406.29,523.85 417.88,515.52 429.48,505.42 441.07,494.10 452.67,477.79 464.26,454.80 475.86,431.80 487.45,412.51 499.05,397.23 510.64,386.00 522.24,380.00 533.83,375.51 545.42,372.00 557.02,369.47 568.62,367.30 580.21,365.10 591.81,363.00" fill="none" stroke="#FFD700" stroke-width="1.1" stroke-linejoin="round"/>
<path d="M371.50,536.60V539.00M369.20,536.60h4.6M369.20,539.00h4.6M383.10,533.08V535.48M380.80,533.08h4.6M380.80,535.48h4.6M394.69,528.03V530.43M392.39,528.03h4.6M392.39,530.43h4.6M406.29,522.65V525.05M403.99,522.65h4.6M403.99,525.05h4.6M417.88,514.32V516.72M415.58,514.32h4.6M415.58,516.72h4.6M429.48,504.22V506.62M427.18,504.22h4.6M427.18,506.62h4.6M441.07,492.90V495.30M438.77,492.90h4.6M438.77,495.30h4.6M452.67,476.59V478.99M450.37,476.59h4.6M450.37,478.99h4.6M464.26,453.60V456.00M461.96,453.60h4.6M461.96,456.00h4.6M475.86,430.39V433.21M473.56,430.39h4.6M473.56,433.21h4.6M487.45,410.90V414.13M485.15,410.90h4.6M485.15,414.13h4.6M499.05,395.40V399.06M496.75,395.40h4.6M496.75,399.06h4.6M510.64,383.96V388.04M508.34,383.96h4.6M508.34,388.04h4.6M522.24,377.75V382.25M519.94,377.75h4.6M519.94,382.25h4.6M533.83,373.06V377.97M531.53,373.06h4.6M531.53,377.97h4.6M545.42,369.34V374.66M543.12,369.34h4.6M543.12,374.66h4.6M557.02,366.60V372.34M554.72,366.60h4.6M554.72,372.34h4.6M568.62,364.22V370.38M566.32,364.22h4.6M566.32,370.38h4.6M580.21,361.81V368.39M577.91,361.81h4.6M577.91,368.39h4.6M591.81,359.50V366.50M589.51,359.50h4.6M589.51,366.50h4.6" fill="none" stroke="#FFD700" stroke-width="1.0"/>
<polyline points="371.50,533.78 383.10,528.96 394.69,524.23 406.29,518.21 417.88,508.57 429.48,498.43 441.07,485.52 452.67,465.82 464.26,441.75 475.86,420.73 487.45,403.63 499.05,388.74 510.64,377.00 522.24,370.00 533.83,365.27 545.42,361.50 557.02,358.22 568.62,355.50 580.21,353.27 591.81,351.50" fill="none" stroke="#808000" stroke-width="1.1" stroke-linejoin="round"/>
<path d="M371.50,532.58V534.98M369.20,532.58h4.6M369.20,534.98h4.6M383.10,527.76V530.16M380.80,527.76h4.6M380.80,530.16h4.6M394.69,523.03V525.43M392.39,523.03h4.6M392.39,525.43h4.6M406.29,517.01V519.41M403.99,517.01h4.6M403.99,519.41h4.6M417.88,507.37V509.77M415.58,507.37h4.6M415.58,509.77h4.6M429.48,497.23V499.63M427.18,497.23h4.6M427.18,499.63h4.6M441.07,484.32V486.72M438.77,484.32h4.6M438.77,486.72h4.6M452.67,464.62V467.02M450.37,464.62h4.6M450.37,467.02h4.6M464.26,440.55V442.95M461.96,440.55h4.6M461.96,442.95h4.6M475.86,419.32V422.14M473.56,419.32h4.6M473.56,422.14h4.6M487.45,402.01V405.25M485.15,402.01h4.6M485.15,405.25h4.6M499.05,386.91V390.56M496.75,386.91h4.6M496.75,390.56h4.6M510.64,374.96V379.04M508.34,374.96h4.6M508.34,379.04h4.6M522.24,367.75V372.25M519.94,367.75h4.6M519.94,372.25h4.6M533.83,362.82V367.72M531.53,362.82h4.6M531.53,367.72h4.6M545.42,358.84V364.16M543.12,358.84h4.6M543.12,364.16h4.6M557.02,355.35V361.09M554.72,355.35h4.6M554.72,361.09h4.6M568.62,352.42V358.58M566.32,352.42h4.6M566.32,358.58h4.6M580.21,349.98V356.57M577.91,349.98h4.6M577.91,356.57h4.6M591.81,348.00V355.00M589.51,348.00h4.6M589.51,355.00h4.6" fill="none" stroke="#808000" stroke-width="1.0"/>
<polyline points="371.50,536.80 383.10,533.15 394.69,528.24 406.29,522.94 417.88,514.51 429.48,504.53 441.07,493.22 452.67,476.68 464.26,453.54 475.86,430.73 487.45,411.65 499.05,397.19 510.64,387.00 522.24,382.00 533.83,377.06 545.42,372.80 557.02,369.71 568.62,367.30 580.21,365.41 591.81,364.00" fill="none" stroke="#32CD32" stroke-width="1.1" stroke-linejoin="round"/>
<path d="M371.50,535.60V538.00M369.20,535.60h4.6M369.20,538.00h4.6M383.10,531.95V534.35M380.80,531.95h4.6M380.80,534.35h4.6M394.69,527.04V529.44M392.39,527.04h4.6M392.39,529.44h4.6M406.29,521.74V524.14M403.99,521.74h4.6M403.99,524.14h4.6M417.88,513.31V515.71M415.58,513.31h4.6M415.58,515.71h4.6M429.48,503.33V505.73M427.18,503.33h4.6M427.18,505.73h4.6M441.07,492.02V494.42M438.77,492.02h4.6M438.77,494.42h4.6M452.67,475.48V477.88M450.37,475.48h4.6M450.37,477.88h4.6M464.26,452.34V454.74M461.96,452.34h4.6M461.96,454.74h4.6M475.86,429.32V432.14M473.56,429.32h4.6M473.56,432.14h4.6M487.45,410.03V413.27M485.15,410.03h4.6M485.15,413.27h4.6M499.05,395.36V399.01M496.75,395.36h4.6M496.75,399.01h4.6M510.64,384.96V389.04M508.34,384.96h4.6M508.34,389.04h4.6M522.24,379.75V384.25M519.94,379.75h4.6M519.94,384.25h4.6M533.83,374.60V379.51M531.53,374.60h4.6M531.53,379.51h4.6M545.42,370.14V375.46M543.12,370.14h4.6M543.12,375.46h4.6M557.02,366.83V372.58M554.72,366.83h4.6M554.72,372.58h4.6M568.62,364.22V370.38M566.32,364.22h4.6M566.32,370.38h4.6M580.21,362.12V368.70M577.91,362.12h4.6M577.91,368.70h4.6M591.81,360.50V367.50M589.51,360.50h4.6M589.51,367.50h4.6" fill="none" stroke="#32CD32" stroke-width="1.0"/>
<polyline points="371.50,537.80 383.10,533.93 394.69,528.89 406.29,523.45 417.88,514.81 429.48,504.71 441.07,493.22 452.67,476.40 464.26,453.04 475.86,430.31 487.45,411.31 499.05,396.95 510.64,386.00 522.24,379.00 533.83,372.67 545.42,368.00 557.02,365.53 568.62,364.00 580.21,363.05 591.81,362.60" fill="none" stroke="#7FFFD4" stroke-width="1.1" stroke-linejoin="round"/>
<path d="M371.50,536.60V539.00M369.20,536.60h4.6M369.20,539.00h4.6M383.10,532.73V535.13M380.80,532.73h4.6M380.80,535.13h4.6M394.69,527.69V530.09M392.39,527.69h4.6M392.39,530.09h4.6M406.29,522.25V524.65M403.99,522.25h4.6M403.99,524.65h4.6M417.88,513.61V516.01M415.58,513.61h4.6M415.58,516.01h4.6M429.48,503.51V505.91M427.18,503.51h4.6M427.18,505.91h4.6M441.07,492.02V494.42M438.77,492.02h4.6M438.77,494.42h4.6M452.67,475.20V477.60M450.37,475.20h4.6M450.37,477.60h4.6M464.26,451.84V454.24M461.96,451.84h4.6M461.96,454.24h4.6M475.86,428.90V431.72M473.56,428.90h4.6M473.56,431.72h4.6M487.45,409.69V412.92M485.15,409.69h4.6M485.15,412.92h4.6M499.05,395.13V398.78M496.75,395.13h4.6M496.75,398.78h4.6M510.64,383.96V388.04M508.34,383.96h4.6M508.34,388.04h4.6M522.24,376.75V381.25M519.94,376.75h4.6M519.94,381.25h4.6M533.83,370.22V375.13M531.53,370.22h4.6M531.53,375.13h4.6M545.42,365.34V370.66M543.12,365.34h4.6M543.12,370.66h4.6M557.02,362.65V368.40M554.72,362.65h4.6M554.72,368.40h4.6M568.62,360.92V367.08M566.32,360.92h4.6M566.32,367.08h4.6M580.21,359.76V366.34M577.91,359.76h4.6M577.91,366.34h4.6M591.81,359.10V366.10M589.51,359.10h4.6M589.51,366.10h4.6" fill="none" stroke="#7FFFD4" stroke-width="1.0"/>
<polyline points="371.50,533.03 383.10,528.29 394.69,523.60 406.29,517.46 417.88,507.84 429.48,497.69 441.07,484.56 452.67,464.57 464.26,440.62 475.86,419.78 487.45,402.89 499.05,388.07 510.64,376.00 522.24,368.10 533.83,362.64 545.42,358.60 557.02,356.08 568.62,353.60 580.21,349.74 591.81,344.80" fill="none" stroke="#008080" stroke-width="1.1" stroke-linejoin="round"/>
<path d="M371.50,531.83V534.23M369.20,531.83h4.6M369.20,534.23h4.6M383.10,527.09V529.49M380.80,527.09h4.6M380.80,529.49h4.6M394.69,522.40V524.80M392.39,522.40h4.6M392.39,524.80h4.6M406.29,516.26V518.66M403.99,516.26h4.6M403.99,518.66h4.6M417.88,506.64V509.04M415.58,506.64h4.6M415.58,509.04h4.6M429.48,496.49V498.89M427.18,496.49h4.6M427.18,498.89h4.6M441.07,483.36V485.76M438.77,483.36h4.6M438.77,485.76h4.6M452.67,463.37V465.77M450.37,463.37h4.6M450.37,465.77h4.6M464.26,439.42V441.82M461.96,439.42h4.6M461.96,441.82h4.6M475.86,418.37V421.19M473.56,418.37h4.6M473.56,421.19h4.6M487.45,401.27V404.51M485.15,401.27h4.6M485.15,404.51h4.6M499.05,386.24V389.90M496.75,386.24h4.6M496.75,389.90h4.6M510.64,373.96V378.04M508.34,373.96h4.6M508.34,378.04h4.6M522.24,365.85V370.35M519.94,365.85h4.6M519.94,370.35h4.6M533.83,360.19V365.10M531.53,360.19h4.6M531.53,365.10h4.6M545.42,355.94V361.26M543.12,355.94h4.6M543.12,361.26h4.6M557.02,353.21V358.95M554.72,353.21h4.6M554.72,358.95h4.6M568.62,350.52V356.68M566.32,350.52h4.6M566.32,356.68h4.6M580.21,346.45V353.03M577.91,346.45h4.6M577.91,353.03h4.6M591.81,341.30V348.30M589.51,341.30h4.6M589.51,348.30h4.6" fill="none" stroke="#008080" stroke-width="1.0"/>
<polyline points="371.50,532.80 383.10,527.90 394.69,524.70 406.29,519.90 417.88,511.40 429.48,500.30 441.07,483.50 452.67,466.50 464.26,444.80 475.86,423.60 487.45,407.20 499.05,392.10 510.64,378.99 522.24,369.30 533.83,364.47 545.42,360.50 557.02,355.52 568.62,350.80 580.21,346.95 591.81,343.70" fill="none" stroke="#00BFFF" stroke-width="1.1" stroke-linejoin="round"/>
<path d="M371.50,522.70V542.90M369.20,522.70h4.6M369.20,542.90h4.6M383.10,517.30V538.50M380.80,517.30h4.6M380.80,538.50h4.6M394.69,511.40V538.00M392.39,511.40h4.6M392.39,538.00h4.6M406.29,503.60V536.20M403.99,503.60h4.6M403.99,536.20h4.6M417.88,494.50V528.30M415.58,494.50h4.6M415.58,528.30h4.6M429.48,482.70V517.90M427.18,482.70h4.6M427.18,517.90h4.6M441.07,462.60V504.40M438.77,462.60h4.6M438.77,504.40h4.6M452.67,440.90V492.10M450.37,440.90h4.6M450.37,492.10h4.6M464.26,416.90V472.70M461.96,416.90h4.6M461.96,472.70h4.6M475.86,391.40V455.80M473.56,391.40h4.6M473.56,455.80h4.6M487.45,374.00V440.40M485.15,374.00h4.6M485.15,440.40h4.6M499.05,360.10V424.10M496.75,360.10h4.6M496.75,424.10h4.6M510.64,346.69V411.29M508.34,346.69h4.6M508.34,411.29h4.6M522.24,335.70V402.90M519.94,335.70h4.6M519.94,402.90h4.6M533.83,330.87V398.07M531.53,330.87h4.6M531.53,398.07h4.6M545.42,327.20V393.80M543.12,327.20h4.6M543.12,393.80h4.6M557.02,323.52V387.52M554.72,323.52h4.6M554.72,387.52h4.6M568.62,318.20V383.40M566.32,318.20h4.6M566.32,383.40h4.6M580.21,312.95V380.95M577.91,312.95h4.6M577.91,380.95h4.6M591.81,310.40V377.00M589.51,310.40h4.6M589.51,377.00h4.6" fill="none" stroke="#00BFFF" stroke-width="1.1"/>
<rect x="365.60" y="303.50" width="54.30" height="186.00" rx="2.5" fill="#ffffff" fill-opacity="1" stroke="#d3d3d3" stroke-width="1"/>
<g stroke="#F08080" stroke-opacity="0.7" fill="none"><line x1="368.90" y1="311.50" x2="390.60" y2="311.50" stroke-width="1.6"/><path d="M379.60,306.10V316.90M377.10,306.10h5M377.10,316.90h5" stroke-width="1.2"/></g>
<g stroke="#A52A2A" stroke-opacity="0.7" fill="none"><line x1="368.90" y1="326.82" x2="390.60" y2="326.82" stroke-width="1.6"/><path d="M379.60,321.42V332.22M377.10,321.42h5M377.10,332.22h5" stroke-width="1.2"/></g>
<g stroke="#228B22" stroke-opacity="0.7" fill="none"><line x1="368.90" y1="342.14" x2="390.60" y2="342.14" stroke-width="1.6"/><path d="M379.60,336.74V347.54M377.10,336.74h5M377.10,347.54h5" stroke-width="1.2"/></g>
<g stroke="#FF00FF" stroke-opacity="0.7" fill="none"><line x1="368.90" y1="357.46" x2="390.60" y2="357.46" stroke-width="1.6"/><path d="M379.60,352.06V362.86M377.10,352.06h5M377.10,362.86h5" stroke-width="1.2"/></g>
<g stroke="#DAA520" stroke-opacity="0.7" fill="none"><line x1="368.90" y1="372.78" x2="390.60" y2="372.78" stroke-width="1.6"/><path d="M379.60,367.38V378.18M377.10,367.38h5M377.10,378.18h5" stroke-width="1.2"/></g>
<g stroke="#000080" stroke-opacity="0.7" fill="none"><line x1="368.90" y1="388.10" x2="390.60" y2="388.10" stroke-width="1.6"/><path d="M379.60,382.70V393.50M377.10,382.70h5M377.10,393.50h5" stroke-width="1.2"/></g>
<g stroke="#FFD700" stroke-opacity="0.7" fill="none"><line x1="368.90" y1="403.42" x2="390.60" y2="403.42" stroke-width="1.6"/><path d="M379.60,398.02V408.82M377.10,398.02h5M377.10,408.82h5" stroke-width="1.2"/></g>
<g stroke="#808000" stroke-opacity="0.7" fill="none"><line x1="368.90" y1="418.74" x2="390.60" y2="418.74" stroke-width="1.6"/><path d="M379.60,413.34V424.14M377.10,413.34h5M377.10,424.14h5" stroke-width="1.2"/></g>
<g stroke="#32CD32" stroke-opacity="0.7" fill="none"><line x1="368.90" y1="434.06" x2="390.60" y2="434.06" stroke-width="1.6"/><path d="M379.60,428.66V439.46M377.10,428.66h5M377.10,439.46h5" stroke-width="1.2"/></g>
<g stroke="#7FFFD4" stroke-opacity="0.7" fill="none"><line x1="368.90" y1="449.38" x2="390.60" y2="449.38" stroke-width="1.6"/><path d="M379.60,443.98V454.78M377.10,443.98h5M377.10,454.78h5" stroke-width="1.2"/></g>
<g stroke="#008080" stroke-opacity="0.7" fill="none"><line x1="368.90" y1="464.70" x2="390.60" y2="464.70" stroke-width="1.6"/><path d="M379.60,459.30V470.10M377.10,459.30h5M377.10,470.10h5" stroke-width="1.2"/></g>
<g stroke="#00BFFF" stroke-opacity="0.7" fill="none"><line x1="368.90" y1="480.02" x2="390.60" y2="480.02" stroke-width="1.6"/><path d="M379.60,474.62V485.42M377.10,474.62h5M377.10,485.42h5" stroke-width="1.2"/></g>
<rect x="360.5" y="298.5" width="242.00" height="256.60" fill="none" stroke="#7a7a7a" stroke-width="1"/>
<line x1="357.70" y1="544.60" x2="360.50" y2="544.60" stroke="#606060" stroke-width="0.8"/>
<line x1="357.70" y1="506.62" x2="360.50" y2="506.62" stroke="#606060" stroke-width="0.8"/>
<line x1="357.70" y1="468.64" x2="360.50" y2="468.64" stroke="#606060" stroke-width="0.8"/>
<line x1="357.70" y1="430.66" x2="360.50" y2="430.66" stroke="#606060" stroke-width="0.8"/>
<line x1="357.70" y1="392.68" x2="360.50" y2="392.68" stroke="#606060" stroke-width="0.8"/>
<line x1="357.70" y1="354.70" x2="360.50" y2="354.70" stroke="#606060" stroke-width="0.8"/>
<line x1="357.70" y1="316.72" x2="360.50" y2="316.72" stroke="#606060" stroke-width="0.8"/>
<line x1="371.50" y1="555.10" x2="371.50" y2="557.90" stroke="#606060" stroke-width="0.8"/>
<line x1="444.90" y1="555.10" x2="444.90" y2="557.90" stroke="#606060" stroke-width="0.8"/>
<line x1="518.40" y1="555.10" x2="518.40" y2="557.90" stroke="#606060" stroke-width="0.8"/>
<line x1="591.80" y1="555.10" x2="591.80" y2="557.90" stroke="#606060" stroke-width="0.8"/>
</g>
<text class="ns" x="78.10" y="78.00" font-size="11">ref.</text>
<text class="ns" x="78.10" y="93.00" font-size="11">2</text>
<text class="ns" x="78.10" y="109.00" font-size="11">3</text>
<text class="ns" x="78.10" y="124.00" font-size="11">4</text>
<text class="ns" x="78.10" y="139.00" font-size="11">5</text>
<text class="ns" x="78.10" y="154.00" font-size="11">6</text>
<text class="ns" x="78.10" y="170.00" font-size="11">10</text>
<text class="ns" x="78.10" y="185.00" font-size="11">12</text>
<text class="ns" x="78.10" y="200.00" font-size="11">15</text>
<text class="ns" x="78.10" y="216.00" font-size="11">20</text>
<text class="ns" x="78.10" y="231.00" font-size="11">30</text>
<text class="ns" x="78.10" y="246.00" font-size="11">60</text>
<text x="34.60" y="27.00" text-anchor="end" font-size="13.5" textLength="19.2" lengthAdjust="spacingAndGlyphs">5.0</text>
<text x="34.60" y="74.00" text-anchor="end" font-size="13.5" textLength="19.2" lengthAdjust="spacingAndGlyphs">4.0</text>
<text x="34.60" y="121.00" text-anchor="end" font-size="13.5" textLength="19.2" lengthAdjust="spacingAndGlyphs">3.0</text>
<text x="34.60" y="168.00" text-anchor="end" font-size="13.5" textLength="19.2" lengthAdjust="spacingAndGlyphs">2.0</text>
<text x="34.60" y="215.00" text-anchor="end" font-size="13.5" textLength="19.2" lengthAdjust="spacingAndGlyphs">1.0</text>
<text x="39.80" y="271.00" font-size="13.6" textLength="14.6" lengthAdjust="spacingAndGlyphs">10</text>
<text x="55.70" y="265.70" font-size="9">0</text>
<text x="113.30" y="271.00" font-size="13.6" textLength="14.6" lengthAdjust="spacingAndGlyphs">10</text>
<text x="129.20" y="265.70" font-size="9">2</text>
<text x="186.80" y="271.00" font-size="13.6" textLength="14.6" lengthAdjust="spacingAndGlyphs">10</text>
<text x="202.70" y="265.70" font-size="9">4</text>
<text x="260.30" y="271.00" font-size="13.6" textLength="14.6" lengthAdjust="spacingAndGlyphs">10</text>
<text x="276.20" y="265.70" font-size="9">6</text>
<text x="76" y="285.2" font-size="13" textLength="169.5" lengthAdjust="spacingAndGlyphs">Time after irradiation in ps</text>
<text transform="translate(10.4,128.3) rotate(-90)" text-anchor="middle" font-size="13" textLength="120.5" lengthAdjust="spacingAndGlyphs">G (species/100 eV)</text>
<text class="ns" x="189.30" y="13.50" font-style="italic" font-size="14.2" textLength="6.3" lengthAdjust="spacingAndGlyphs">r</text>
<text style="stroke-width:0.15px" x="195.70" y="15.90" font-size="10" textLength="24.40" lengthAdjust="spacingAndGlyphs">phsp</text>
<text class="ns" x="224.70" y="13.50" font-size="14" textLength="53.20" lengthAdjust="spacingAndGlyphs">= 1 nm</text>
<circle cx="250.60" cy="23.40" r="1.5" fill="#000"/>
<text class="ns" x="255.70" y="31.60" font-size="14.2" textLength="22.20" lengthAdjust="spacingAndGlyphs">OH</text>
<text class="ns" x="398.60" y="78.00" font-size="11">ref.</text>
<text class="ns" x="398.60" y="93.00" font-size="11">2</text>
<text class="ns" x="398.60" y="108.00" font-size="11">3</text>
<text class="ns" x="398.60" y="123.00" font-size="11">4</text>
<text class="ns" x="398.60" y="139.00" font-size="11">5</text>
<text class="ns" x="398.60" y="154.00" font-size="11">6</text>
<text class="ns" x="398.60" y="169.00" font-size="11">10</text>
<text class="ns" x="398.60" y="185.00" font-size="11">12</text>
<text class="ns" x="398.60" y="200.00" font-size="11">15</text>
<text class="ns" x="398.60" y="215.00" font-size="11">20</text>
<text class="ns" x="398.60" y="231.00" font-size="11">30</text>
<text class="ns" x="398.60" y="246.00" font-size="11">60</text>
<text x="355.70" y="40.00" text-anchor="end" font-size="13.5" textLength="19.2" lengthAdjust="spacingAndGlyphs">5.0</text>
<text x="355.70" y="77.00" text-anchor="end" font-size="13.5" textLength="19.2" lengthAdjust="spacingAndGlyphs">4.5</text>
<text x="355.70" y="114.00" text-anchor="end" font-size="13.5" textLength="19.2" lengthAdjust="spacingAndGlyphs">4.0</text>
<text x="355.70" y="151.00" text-anchor="end" font-size="13.5" textLength="19.2" lengthAdjust="spacingAndGlyphs">3.5</text>
<text x="355.70" y="188.00" text-anchor="end" font-size="13.5" textLength="19.2" lengthAdjust="spacingAndGlyphs">3.0</text>
<text x="355.70" y="225.00" text-anchor="end" font-size="13.5" textLength="19.2" lengthAdjust="spacingAndGlyphs">2.5</text>
<text x="361.20" y="271.00" font-size="13.6" textLength="14.6" lengthAdjust="spacingAndGlyphs">10</text>
<text x="377.10" y="265.70" font-size="9">0</text>
<text x="434.60" y="271.00" font-size="13.6" textLength="14.6" lengthAdjust="spacingAndGlyphs">10</text>
<text x="450.50" y="265.70" font-size="9">2</text>
<text x="508.10" y="271.00" font-size="13.6" textLength="14.6" lengthAdjust="spacingAndGlyphs">10</text>
<text x="524.00" y="265.70" font-size="9">4</text>
<text x="581.50" y="271.00" font-size="13.6" textLength="14.6" lengthAdjust="spacingAndGlyphs">10</text>
<text x="597.40" y="265.70" font-size="9">6</text>
<text x="397.2" y="284.9" font-size="13" textLength="168.5" lengthAdjust="spacingAndGlyphs">Time in ps after irradiation</text>
<text transform="translate(331,129.3) rotate(-90)" text-anchor="middle" font-size="13" textLength="120.5" lengthAdjust="spacingAndGlyphs">G (species/100 eV)</text>
<text class="ns" x="489.00" y="13.50" font-style="italic" font-size="14.2" textLength="6.3" lengthAdjust="spacingAndGlyphs">r</text>
<text style="stroke-width:0.15px" x="495.50" y="15.90" font-size="10" textLength="24.00" lengthAdjust="spacingAndGlyphs">phsp</text>
<text class="ns" x="524.60" y="13.50" font-size="14" textLength="72.50" lengthAdjust="spacingAndGlyphs">= 100 nm</text>
<circle cx="569.00" cy="23.60" r="1.5" fill="#000"/>
<text class="ns" x="574.30" y="31.60" font-size="14.2" textLength="22.80" lengthAdjust="spacingAndGlyphs">OH</text>
<text class="ns" x="77.80" y="316.00" font-size="11">ref.</text>
<text class="ns" x="77.80" y="331.00" font-size="11">2</text>
<text class="ns" x="77.80" y="346.00" font-size="11">3</text>
<text class="ns" x="77.80" y="362.00" font-size="11">4</text>
<text class="ns" x="77.80" y="377.00" font-size="11">5</text>
<text class="ns" x="77.80" y="392.00" font-size="11">6</text>
<text class="ns" x="77.80" y="408.00" font-size="11">10</text>
<text class="ns" x="77.80" y="423.00" font-size="11">12</text>
<text class="ns" x="77.80" y="438.00" font-size="11">15</text>
<text class="ns" x="77.80" y="454.00" font-size="11">20</text>
<text class="ns" x="77.80" y="469.00" font-size="11">30</text>
<text class="ns" x="77.80" y="484.00" font-size="11">60</text>
<text x="34.60" y="551.00" text-anchor="end" font-size="13.5" textLength="19.2" lengthAdjust="spacingAndGlyphs">0.0</text>
<text x="34.60" y="520.00" text-anchor="end" font-size="13.5" textLength="19.2" lengthAdjust="spacingAndGlyphs">0.2</text>
<text x="34.60" y="489.00" text-anchor="end" font-size="13.5" textLength="19.2" lengthAdjust="spacingAndGlyphs">0.4</text>
<text x="34.60" y="458.00" text-anchor="end" font-size="13.5" textLength="19.2" lengthAdjust="spacingAndGlyphs">0.6</text>
<text x="34.60" y="427.00" text-anchor="end" font-size="13.5" textLength="19.2" lengthAdjust="spacingAndGlyphs">0.8</text>
<text x="34.60" y="396.00" text-anchor="end" font-size="13.5" textLength="19.2" lengthAdjust="spacingAndGlyphs">1.0</text>
<text x="34.60" y="365.00" text-anchor="end" font-size="13.5" textLength="19.2" lengthAdjust="spacingAndGlyphs">1.2</text>
<text x="34.60" y="334.00" text-anchor="end" font-size="13.5" textLength="19.2" lengthAdjust="spacingAndGlyphs">1.4</text>
<text x="39.80" y="569.00" font-size="13.6" textLength="14.6" lengthAdjust="spacingAndGlyphs">10</text>
<text x="55.70" y="563.70" font-size="9">0</text>
<text x="113.30" y="569.00" font-size="13.6" textLength="14.6" lengthAdjust="spacingAndGlyphs">10</text>
<text x="129.20" y="563.70" font-size="9">2</text>
<text x="186.80" y="569.00" font-size="13.6" textLength="14.6" lengthAdjust="spacingAndGlyphs">10</text>
<text x="202.70" y="563.70" font-size="9">4</text>
<text x="260.30" y="569.00" font-size="13.6" textLength="14.6" lengthAdjust="spacingAndGlyphs">10</text>
<text x="276.20" y="563.70" font-size="9">6</text>
<text x="76" y="582.8" font-size="13" textLength="169.5" lengthAdjust="spacingAndGlyphs">Time after irradiation in ps</text>
<text transform="translate(10.4,426.5) rotate(-90)" text-anchor="middle" font-size="13" textLength="120.5" lengthAdjust="spacingAndGlyphs">G (species/100 eV)</text>
<text class="ns" x="189.30" y="313.80" font-style="italic" font-size="14.2" textLength="6.3" lengthAdjust="spacingAndGlyphs">r</text>
<text style="stroke-width:0.15px" x="195.70" y="316.20" font-size="10" textLength="24.40" lengthAdjust="spacingAndGlyphs">phsp</text>
<text class="ns" x="224.70" y="313.80" font-size="14" textLength="53.20" lengthAdjust="spacingAndGlyphs">= 1 nm</text>
<text class="ns" x="242.50" y="332.60" font-size="14" textLength="35.60" lengthAdjust="spacingAndGlyphs">H<tspan font-size="9.8" dy="2.8">2</tspan><tspan dy="-2.8">O</tspan><tspan font-size="9.8" dy="2.8">2</tspan></text>
<text class="ns" x="398.80" y="316.00" font-size="11">ref.</text>
<text class="ns" x="398.80" y="331.00" font-size="11">2</text>
<text class="ns" x="398.80" y="346.00" font-size="11">3</text>
<text class="ns" x="398.80" y="361.00" font-size="11">4</text>
<text class="ns" x="398.80" y="377.00" font-size="11">5</text>
<text class="ns" x="398.80" y="392.00" font-size="11">6</text>
<text class="ns" x="398.80" y="407.00" font-size="11">10</text>
<text class="ns" x="398.80" y="423.00" font-size="11">12</text>
<text class="ns" x="398.80" y="438.00" font-size="11">15</text>
<text class="ns" x="398.80" y="453.00" font-size="11">20</text>
<text class="ns" x="398.80" y="469.00" font-size="11">30</text>
<text class="ns" x="398.80" y="484.00" font-size="11">60</text>
<text x="355.70" y="549.00" text-anchor="end" font-size="13.5" textLength="19.2" lengthAdjust="spacingAndGlyphs">0.0</text>
<text x="355.70" y="511.00" text-anchor="end" font-size="13.5" textLength="19.2" lengthAdjust="spacingAndGlyphs">0.1</text>
<text x="355.70" y="473.00" text-anchor="end" font-size="13.5" textLength="19.2" lengthAdjust="spacingAndGlyphs">0.2</text>
<text x="355.70" y="435.00" text-anchor="end" font-size="13.5" textLength="19.2" lengthAdjust="spacingAndGlyphs">0.3</text>
<text x="355.70" y="397.00" text-anchor="end" font-size="13.5" textLength="19.2" lengthAdjust="spacingAndGlyphs">0.4</text>
<text x="355.70" y="359.00" text-anchor="end" font-size="13.5" textLength="19.2" lengthAdjust="spacingAndGlyphs">0.5</text>
<text x="355.70" y="321.00" text-anchor="end" font-size="13.5" textLength="19.2" lengthAdjust="spacingAndGlyphs">0.6</text>
<text x="361.20" y="569.00" font-size="13.6" textLength="14.6" lengthAdjust="spacingAndGlyphs">10</text>
<text x="377.10" y="563.70" font-size="9">0</text>
<text x="434.60" y="569.00" font-size="13.6" textLength="14.6" lengthAdjust="spacingAndGlyphs">10</text>
<text x="450.50" y="563.70" font-size="9">2</text>
<text x="508.10" y="569.00" font-size="13.6" textLength="14.6" lengthAdjust="spacingAndGlyphs">10</text>
<text x="524.00" y="563.70" font-size="9">4</text>
<text x="581.50" y="569.00" font-size="13.6" textLength="14.6" lengthAdjust="spacingAndGlyphs">10</text>
<text x="597.40" y="563.70" font-size="9">6</text>
<text x="397.2" y="582.6" font-size="13" textLength="168.5" lengthAdjust="spacingAndGlyphs">Time in ps after irradiation</text>
<text transform="translate(331,427.3) rotate(-90)" text-anchor="middle" font-size="13" textLength="120.5" lengthAdjust="spacingAndGlyphs">G (species/100 eV)</text>
<text class="ns" x="433.70" y="316.20" font-style="italic" font-size="14.2" textLength="6.3" lengthAdjust="spacingAndGlyphs">r</text>
<text style="stroke-width:0.15px" x="440.00" y="318.60" font-size="10" textLength="24.70" lengthAdjust="spacingAndGlyphs">phsp</text>
<text class="ns" x="469.90" y="316.20" font-size="14" textLength="72.00" lengthAdjust="spacingAndGlyphs">= 100 nm</text>
<text class="ns" x="434.10" y="333.80" font-size="14" textLength="36.00" lengthAdjust="spacingAndGlyphs">H<tspan font-size="9.8" dy="2.8">2</tspan><tspan dy="-2.8">O</tspan><tspan font-size="9.8" dy="2.8">2</tspan></text>
</svg>
</body></html>
